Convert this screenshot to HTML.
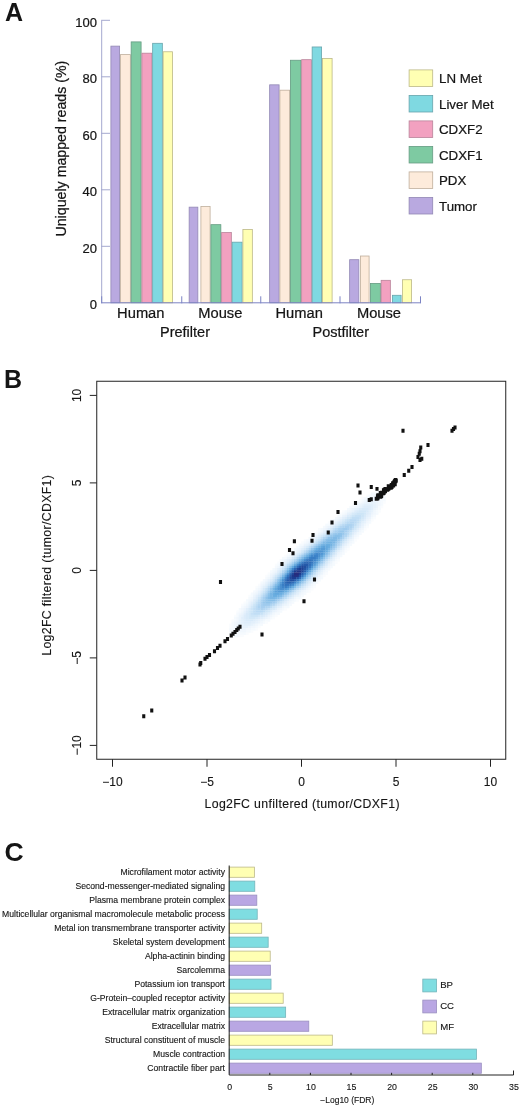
<!DOCTYPE html>
<html lang="en"><head><meta charset="utf-8"><title>Figure</title>
<style>
html,body{margin:0;padding:0;background:#fff}
svg{display:block}
svg text{font-family:"Liberation Sans", Arial, Helvetica, sans-serif;fill:#151515}
#panelA text{stroke:#151515;stroke-width:0.22px}
#panelB text,#panelC text{stroke:#151515;stroke-width:0.12px}
</style></head><body>
<svg width="520" height="1107" viewBox="0 0 520 1107">
<rect width="520" height="1107" fill="#fff"/>
<g id="panelA">
<rect x="110.90" y="46.13" width="8.70" height="256.68" fill="#b9a9e0" stroke="#9288b4" stroke-width="0.8"/>
<rect x="120.40" y="54.60" width="9.95" height="248.20" fill="#fdebdb" stroke="#bfae9c" stroke-width="0.8"/>
<rect x="131.15" y="41.89" width="9.95" height="260.91" fill="#7ecaa2" stroke="#669c83" stroke-width="0.8"/>
<rect x="141.90" y="53.19" width="9.95" height="249.61" fill="#f2a1c0" stroke="#b98399" stroke-width="0.8"/>
<rect x="152.65" y="43.30" width="9.70" height="259.50" fill="#7fd9e1" stroke="#68a4ac" stroke-width="0.8"/>
<rect x="163.15" y="51.77" width="9.45" height="251.03" fill="#ffffb3" stroke="#bcb888" stroke-width="0.8"/>
<rect x="189.15" y="207.15" width="8.70" height="95.65" fill="#b9a9e0" stroke="#9288b4" stroke-width="0.8"/>
<rect x="200.90" y="206.59" width="9.20" height="96.22" fill="#fdebdb" stroke="#bfae9c" stroke-width="0.8"/>
<rect x="210.90" y="224.66" width="9.95" height="78.14" fill="#7ecaa2" stroke="#669c83" stroke-width="0.8"/>
<rect x="221.65" y="232.58" width="9.70" height="70.22" fill="#f2a1c0" stroke="#b98399" stroke-width="0.8"/>
<rect x="232.15" y="242.18" width="9.95" height="60.62" fill="#7fd9e1" stroke="#68a4ac" stroke-width="0.8"/>
<rect x="242.90" y="229.47" width="9.45" height="73.33" fill="#ffffb3" stroke="#bcb888" stroke-width="0.8"/>
<rect x="269.65" y="84.83" width="9.45" height="217.97" fill="#b9a9e0" stroke="#9288b4" stroke-width="0.8"/>
<rect x="279.90" y="90.19" width="9.70" height="212.61" fill="#fdebdb" stroke="#bfae9c" stroke-width="0.8"/>
<rect x="290.40" y="60.25" width="10.45" height="242.55" fill="#7ecaa2" stroke="#669c83" stroke-width="0.8"/>
<rect x="301.65" y="59.68" width="9.70" height="243.12" fill="#f2a1c0" stroke="#b98399" stroke-width="0.8"/>
<rect x="312.15" y="46.97" width="9.45" height="255.83" fill="#7fd9e1" stroke="#68a4ac" stroke-width="0.8"/>
<rect x="322.40" y="58.55" width="9.70" height="244.25" fill="#ffffb3" stroke="#bcb888" stroke-width="0.8"/>
<rect x="349.65" y="259.69" width="9.20" height="43.10" fill="#b9a9e0" stroke="#9288b4" stroke-width="0.8"/>
<rect x="360.40" y="256.02" width="8.70" height="46.78" fill="#fdebdb" stroke="#bfae9c" stroke-width="0.8"/>
<rect x="370.40" y="283.43" width="9.95" height="19.37" fill="#7ecaa2" stroke="#669c83" stroke-width="0.8"/>
<rect x="381.15" y="280.32" width="9.20" height="22.48" fill="#f2a1c0" stroke="#b98399" stroke-width="0.8"/>
<rect x="392.40" y="295.29" width="8.70" height="7.51" fill="#7fd9e1" stroke="#68a4ac" stroke-width="0.8"/>
<rect x="402.40" y="279.75" width="9.20" height="23.05" fill="#ffffb3" stroke="#bcb888" stroke-width="0.8"/>
<path d="M101.7 20.4V302.8" fill="none" stroke="#a4a8cf" stroke-width="1"/>
<path d="M101.2 246.30h8.8" stroke="#a4a8cf" stroke-width="1"/>
<path d="M101.2 189.80h8.8" stroke="#a4a8cf" stroke-width="1"/>
<path d="M101.2 133.30h8.8" stroke="#a4a8cf" stroke-width="1"/>
<path d="M101.2 76.80h8.8" stroke="#a4a8cf" stroke-width="1"/>
<path d="M101.2 20.30h8.8" stroke="#a4a8cf" stroke-width="1"/>
<path d="M101.2 302.8H420.5" fill="none" stroke="#7c84c4" stroke-width="1"/>
<path d="M101.7 303.3v-7" stroke="#7c84c4" stroke-width="1"/>
<path d="M181.75 303.3v-7" stroke="#7c84c4" stroke-width="1"/>
<path d="M260.75 303.3v-7" stroke="#7c84c4" stroke-width="1"/>
<path d="M340 303.3v-7" stroke="#7c84c4" stroke-width="1"/>
<path d="M420.5 303.3v-7" stroke="#7c84c4" stroke-width="1"/>
<text x="97" y="309.10" font-size="13" text-anchor="end">0</text>
<text x="97" y="252.60" font-size="13" text-anchor="end">20</text>
<text x="97" y="196.10" font-size="13" text-anchor="end">40</text>
<text x="97" y="139.60" font-size="13" text-anchor="end">60</text>
<text x="97" y="83.10" font-size="13" text-anchor="end">80</text>
<text x="97" y="26.60" font-size="13" text-anchor="end">100</text>
<text transform="translate(65.6 148.6) rotate(-90)" font-size="14.2" text-anchor="middle">Uniquely mapped reads (%)</text>
<text x="140.8" y="318" font-size="14.7" text-anchor="middle">Human</text>
<text x="220.3" y="318" font-size="14.7" text-anchor="middle">Mouse</text>
<text x="299.2" y="318" font-size="14.7" text-anchor="middle">Human</text>
<text x="379" y="318" font-size="14.7" text-anchor="middle">Mouse</text>
<text x="185" y="336.8" font-size="14.5" text-anchor="middle">Prefilter</text>
<text x="340.8" y="336.8" font-size="14.5" text-anchor="middle">Postfilter</text>
<rect x="409.1" y="69.90" width="23.6" height="16.6" fill="#ffffb3" stroke="#bcb888" stroke-width="0.8"/>
<text x="439" y="83.10" font-size="13.3">LN Met</text>
<rect x="409.1" y="95.40" width="23.6" height="16.6" fill="#7fd9e1" stroke="#68a4ac" stroke-width="0.8"/>
<text x="439" y="108.60" font-size="13.3">Liver Met</text>
<rect x="409.1" y="120.90" width="23.6" height="16.6" fill="#f2a1c0" stroke="#b98399" stroke-width="0.8"/>
<text x="439" y="134.10" font-size="13.3">CDXF2</text>
<rect x="409.1" y="146.40" width="23.6" height="16.6" fill="#7ecaa2" stroke="#669c83" stroke-width="0.8"/>
<text x="439" y="159.60" font-size="13.3">CDXF1</text>
<rect x="409.1" y="171.90" width="23.6" height="16.6" fill="#fdebdb" stroke="#bfae9c" stroke-width="0.8"/>
<text x="439" y="185.10" font-size="13.3">PDX</text>
<rect x="409.1" y="197.40" width="23.6" height="16.6" fill="#b9a9e0" stroke="#9288b4" stroke-width="0.8"/>
<text x="439" y="210.60" font-size="13.3">Tumor</text>
</g>
<text x="5" y="21" font-size="25" font-weight="bold">A</text>
<text x="4" y="388" font-size="25" font-weight="bold">B</text>
<text x="4.5" y="861.2" font-size="26.5" font-weight="bold">C</text>
<g id="panelB">
<rect x="375.8" y="490.2" width="2.7" height="2.5" fill="#fafcfe"/>
<rect x="371.0" y="492.4" width="9.9" height="2.5" fill="#f5fafe"/>
<rect x="380.6" y="492.4" width="2.7" height="2.5" fill="#fafcfe"/>
<rect x="366.2" y="494.6" width="2.7" height="2.5" fill="#fafcfe"/>
<rect x="368.6" y="494.6" width="5.1" height="2.5" fill="#f5fafe"/>
<rect x="373.4" y="494.6" width="5.1" height="2.5" fill="#f1f7fd"/>
<rect x="378.2" y="494.6" width="5.1" height="2.5" fill="#f5fafe"/>
<rect x="383.1" y="494.6" width="2.7" height="2.5" fill="#fafcfe"/>
<rect x="361.4" y="496.9" width="2.7" height="2.5" fill="#fafcfe"/>
<rect x="363.8" y="496.9" width="5.1" height="2.5" fill="#f5fafe"/>
<rect x="368.6" y="496.9" width="5.1" height="2.5" fill="#f1f7fd"/>
<rect x="373.4" y="496.9" width="2.7" height="2.5" fill="#ecf4fc"/>
<rect x="375.8" y="496.9" width="5.1" height="2.5" fill="#f1f7fd"/>
<rect x="380.6" y="496.9" width="5.1" height="2.5" fill="#f5fafe"/>
<rect x="359.0" y="499.1" width="2.7" height="2.5" fill="#fafcfe"/>
<rect x="361.4" y="499.1" width="2.7" height="2.5" fill="#f5fafe"/>
<rect x="363.8" y="499.1" width="2.7" height="2.5" fill="#f1f7fd"/>
<rect x="366.2" y="499.1" width="12.3" height="2.5" fill="#ecf4fc"/>
<rect x="378.2" y="499.1" width="2.7" height="2.5" fill="#f1f7fd"/>
<rect x="380.6" y="499.1" width="5.1" height="2.5" fill="#f5fafe"/>
<rect x="356.6" y="501.3" width="5.1" height="2.5" fill="#f5fafe"/>
<rect x="361.4" y="501.3" width="2.7" height="2.5" fill="#f1f7fd"/>
<rect x="363.8" y="501.3" width="2.7" height="2.5" fill="#ecf4fc"/>
<rect x="366.2" y="501.3" width="9.9" height="2.5" fill="#e7f2fc"/>
<rect x="375.8" y="501.3" width="2.7" height="2.5" fill="#ecf4fc"/>
<rect x="378.2" y="501.3" width="2.7" height="2.5" fill="#f1f7fd"/>
<rect x="380.6" y="501.3" width="2.7" height="2.5" fill="#f5fafe"/>
<rect x="383.1" y="501.3" width="2.7" height="2.5" fill="#fafcfe"/>
<rect x="351.8" y="503.5" width="2.7" height="2.5" fill="#fafcfe"/>
<rect x="354.2" y="503.5" width="2.7" height="2.5" fill="#f5fafe"/>
<rect x="356.6" y="503.5" width="2.7" height="2.5" fill="#f1f7fd"/>
<rect x="359.0" y="503.5" width="2.7" height="2.5" fill="#ecf4fc"/>
<rect x="361.4" y="503.5" width="2.7" height="2.5" fill="#e7f2fc"/>
<rect x="363.8" y="503.5" width="9.9" height="2.5" fill="#e2effb"/>
<rect x="373.4" y="503.5" width="2.7" height="2.5" fill="#e7f2fc"/>
<rect x="375.8" y="503.5" width="2.7" height="2.5" fill="#ecf4fc"/>
<rect x="378.2" y="503.5" width="2.7" height="2.5" fill="#f1f7fd"/>
<rect x="380.6" y="503.5" width="2.7" height="2.5" fill="#f5fafe"/>
<rect x="349.4" y="505.8" width="5.1" height="2.5" fill="#f5fafe"/>
<rect x="354.2" y="505.8" width="2.7" height="2.5" fill="#f1f7fd"/>
<rect x="356.6" y="505.8" width="2.7" height="2.5" fill="#ecf4fc"/>
<rect x="359.0" y="505.8" width="2.7" height="2.5" fill="#e7f2fc"/>
<rect x="361.4" y="505.8" width="2.7" height="2.5" fill="#e2effb"/>
<rect x="363.8" y="505.8" width="7.5" height="2.5" fill="#ddecfa"/>
<rect x="371.0" y="505.8" width="2.7" height="2.5" fill="#e2effb"/>
<rect x="373.4" y="505.8" width="2.7" height="2.5" fill="#e7f2fc"/>
<rect x="375.8" y="505.8" width="2.7" height="2.5" fill="#ecf4fc"/>
<rect x="378.2" y="505.8" width="2.7" height="2.5" fill="#f5fafe"/>
<rect x="380.6" y="505.8" width="2.7" height="2.5" fill="#fafcfe"/>
<rect x="347.0" y="508.0" width="2.7" height="2.5" fill="#f5fafe"/>
<rect x="349.4" y="508.0" width="2.7" height="2.5" fill="#f1f7fd"/>
<rect x="351.8" y="508.0" width="2.7" height="2.5" fill="#ecf4fc"/>
<rect x="354.2" y="508.0" width="2.7" height="2.5" fill="#e7f2fc"/>
<rect x="356.6" y="508.0" width="2.7" height="2.5" fill="#e2effb"/>
<rect x="359.0" y="508.0" width="2.7" height="2.5" fill="#ddecfa"/>
<rect x="361.4" y="508.0" width="7.5" height="2.5" fill="#d8eaf9"/>
<rect x="368.6" y="508.0" width="2.7" height="2.5" fill="#ddecfa"/>
<rect x="371.0" y="508.0" width="2.7" height="2.5" fill="#e2effb"/>
<rect x="373.4" y="508.0" width="2.7" height="2.5" fill="#ecf4fc"/>
<rect x="375.8" y="508.0" width="2.7" height="2.5" fill="#f1f7fd"/>
<rect x="378.2" y="508.0" width="2.7" height="2.5" fill="#f5fafe"/>
<rect x="342.1" y="510.2" width="2.7" height="2.5" fill="#fafcfe"/>
<rect x="344.6" y="510.2" width="2.7" height="2.5" fill="#f5fafe"/>
<rect x="347.0" y="510.2" width="2.7" height="2.5" fill="#f1f7fd"/>
<rect x="349.4" y="510.2" width="2.7" height="2.5" fill="#ecf4fc"/>
<rect x="351.8" y="510.2" width="2.7" height="2.5" fill="#e7f2fc"/>
<rect x="354.2" y="510.2" width="2.7" height="2.5" fill="#ddecfa"/>
<rect x="356.6" y="510.2" width="2.7" height="2.5" fill="#d8eaf9"/>
<rect x="359.0" y="510.2" width="7.5" height="2.5" fill="#d3e8f8"/>
<rect x="366.2" y="510.2" width="2.7" height="2.5" fill="#d8eaf9"/>
<rect x="368.6" y="510.2" width="2.7" height="2.5" fill="#e2effb"/>
<rect x="371.0" y="510.2" width="2.7" height="2.5" fill="#e7f2fc"/>
<rect x="373.4" y="510.2" width="2.7" height="2.5" fill="#f1f7fd"/>
<rect x="375.8" y="510.2" width="2.7" height="2.5" fill="#f5fafe"/>
<rect x="378.2" y="510.2" width="2.7" height="2.5" fill="#fafcfe"/>
<rect x="339.7" y="512.4" width="2.7" height="2.5" fill="#fafcfe"/>
<rect x="342.1" y="512.4" width="2.7" height="2.5" fill="#f5fafe"/>
<rect x="344.6" y="512.4" width="2.7" height="2.5" fill="#f1f7fd"/>
<rect x="347.0" y="512.4" width="2.7" height="2.5" fill="#e7f2fc"/>
<rect x="349.4" y="512.4" width="2.7" height="2.5" fill="#e2effb"/>
<rect x="351.8" y="512.4" width="2.7" height="2.5" fill="#d8eaf9"/>
<rect x="354.2" y="512.4" width="2.7" height="2.5" fill="#d3e8f8"/>
<rect x="356.6" y="512.4" width="7.5" height="2.5" fill="#cde5f7"/>
<rect x="363.8" y="512.4" width="2.7" height="2.5" fill="#d3e8f8"/>
<rect x="366.2" y="512.4" width="2.7" height="2.5" fill="#ddecfa"/>
<rect x="368.6" y="512.4" width="2.7" height="2.5" fill="#e2effb"/>
<rect x="371.0" y="512.4" width="2.7" height="2.5" fill="#ecf4fc"/>
<rect x="373.4" y="512.4" width="2.7" height="2.5" fill="#f1f7fd"/>
<rect x="375.8" y="512.4" width="2.7" height="2.5" fill="#f5fafe"/>
<rect x="337.3" y="514.7" width="5.1" height="2.5" fill="#f5fafe"/>
<rect x="342.1" y="514.7" width="2.7" height="2.5" fill="#ecf4fc"/>
<rect x="344.6" y="514.7" width="2.7" height="2.5" fill="#e7f2fc"/>
<rect x="347.0" y="514.7" width="2.7" height="2.5" fill="#ddecfa"/>
<rect x="349.4" y="514.7" width="2.7" height="2.5" fill="#d8eaf9"/>
<rect x="351.8" y="514.7" width="2.7" height="2.5" fill="#cde5f7"/>
<rect x="354.2" y="514.7" width="7.5" height="2.5" fill="#c7e1f6"/>
<rect x="361.4" y="514.7" width="2.7" height="2.5" fill="#cde5f7"/>
<rect x="363.8" y="514.7" width="2.7" height="2.5" fill="#d8eaf9"/>
<rect x="366.2" y="514.7" width="2.7" height="2.5" fill="#e2effb"/>
<rect x="368.6" y="514.7" width="2.7" height="2.5" fill="#e7f2fc"/>
<rect x="371.0" y="514.7" width="2.7" height="2.5" fill="#f1f7fd"/>
<rect x="373.4" y="514.7" width="2.7" height="2.5" fill="#f5fafe"/>
<rect x="334.9" y="516.9" width="2.7" height="2.5" fill="#f5fafe"/>
<rect x="337.3" y="516.9" width="2.7" height="2.5" fill="#f1f7fd"/>
<rect x="339.7" y="516.9" width="2.7" height="2.5" fill="#ecf4fc"/>
<rect x="342.1" y="516.9" width="2.7" height="2.5" fill="#e2effb"/>
<rect x="344.6" y="516.9" width="2.7" height="2.5" fill="#ddecfa"/>
<rect x="347.0" y="516.9" width="2.7" height="2.5" fill="#d3e8f8"/>
<rect x="349.4" y="516.9" width="2.7" height="2.5" fill="#cde5f7"/>
<rect x="351.8" y="516.9" width="7.5" height="2.5" fill="#c1def5"/>
<rect x="359.0" y="516.9" width="2.7" height="2.5" fill="#c7e1f6"/>
<rect x="361.4" y="516.9" width="2.7" height="2.5" fill="#d3e8f8"/>
<rect x="363.8" y="516.9" width="2.7" height="2.5" fill="#ddecfa"/>
<rect x="366.2" y="516.9" width="2.7" height="2.5" fill="#e7f2fc"/>
<rect x="368.6" y="516.9" width="2.7" height="2.5" fill="#ecf4fc"/>
<rect x="371.0" y="516.9" width="2.7" height="2.5" fill="#f5fafe"/>
<rect x="373.4" y="516.9" width="2.7" height="2.5" fill="#fafcfe"/>
<rect x="330.1" y="519.1" width="2.7" height="2.5" fill="#fafcfe"/>
<rect x="332.5" y="519.1" width="2.7" height="2.5" fill="#f5fafe"/>
<rect x="334.9" y="519.1" width="2.7" height="2.5" fill="#f1f7fd"/>
<rect x="337.3" y="519.1" width="2.7" height="2.5" fill="#ecf4fc"/>
<rect x="339.7" y="519.1" width="2.7" height="2.5" fill="#e2effb"/>
<rect x="342.1" y="519.1" width="2.7" height="2.5" fill="#d8eaf9"/>
<rect x="344.6" y="519.1" width="2.7" height="2.5" fill="#cde5f7"/>
<rect x="347.0" y="519.1" width="2.7" height="2.5" fill="#c7e1f6"/>
<rect x="349.4" y="519.1" width="7.5" height="2.5" fill="#badaf4"/>
<rect x="356.6" y="519.1" width="2.7" height="2.5" fill="#c1def5"/>
<rect x="359.0" y="519.1" width="2.7" height="2.5" fill="#cde5f7"/>
<rect x="361.4" y="519.1" width="2.7" height="2.5" fill="#d8eaf9"/>
<rect x="363.8" y="519.1" width="2.7" height="2.5" fill="#e2effb"/>
<rect x="366.2" y="519.1" width="2.7" height="2.5" fill="#ecf4fc"/>
<rect x="368.6" y="519.1" width="2.7" height="2.5" fill="#f1f7fd"/>
<rect x="371.0" y="519.1" width="2.7" height="2.5" fill="#fafcfe"/>
<rect x="327.7" y="521.3" width="2.7" height="2.5" fill="#fafcfe"/>
<rect x="330.1" y="521.3" width="2.7" height="2.5" fill="#f5fafe"/>
<rect x="332.5" y="521.3" width="2.7" height="2.5" fill="#f1f7fd"/>
<rect x="334.9" y="521.3" width="2.7" height="2.5" fill="#e7f2fc"/>
<rect x="337.3" y="521.3" width="2.7" height="2.5" fill="#ddecfa"/>
<rect x="339.7" y="521.3" width="2.7" height="2.5" fill="#d8eaf9"/>
<rect x="342.1" y="521.3" width="2.7" height="2.5" fill="#cde5f7"/>
<rect x="344.6" y="521.3" width="2.7" height="2.5" fill="#c1def5"/>
<rect x="347.0" y="521.3" width="2.7" height="2.5" fill="#badaf4"/>
<rect x="349.4" y="521.3" width="5.1" height="2.5" fill="#b4d6f2"/>
<rect x="354.2" y="521.3" width="2.7" height="2.5" fill="#badaf4"/>
<rect x="356.6" y="521.3" width="2.7" height="2.5" fill="#c7e1f6"/>
<rect x="359.0" y="521.3" width="2.7" height="2.5" fill="#d3e8f8"/>
<rect x="361.4" y="521.3" width="2.7" height="2.5" fill="#e2effb"/>
<rect x="363.8" y="521.3" width="2.7" height="2.5" fill="#e7f2fc"/>
<rect x="366.2" y="521.3" width="2.7" height="2.5" fill="#f1f7fd"/>
<rect x="368.6" y="521.3" width="2.7" height="2.5" fill="#f5fafe"/>
<rect x="325.3" y="523.6" width="5.1" height="2.5" fill="#f5fafe"/>
<rect x="330.1" y="523.6" width="2.7" height="2.5" fill="#ecf4fc"/>
<rect x="332.5" y="523.6" width="2.7" height="2.5" fill="#e7f2fc"/>
<rect x="334.9" y="523.6" width="2.7" height="2.5" fill="#ddecfa"/>
<rect x="337.3" y="523.6" width="2.7" height="2.5" fill="#d3e8f8"/>
<rect x="339.7" y="523.6" width="2.7" height="2.5" fill="#c7e1f6"/>
<rect x="342.1" y="523.6" width="2.7" height="2.5" fill="#badaf4"/>
<rect x="344.6" y="523.6" width="2.7" height="2.5" fill="#b4d6f2"/>
<rect x="347.0" y="523.6" width="5.1" height="2.5" fill="#add3f1"/>
<rect x="351.8" y="523.6" width="2.7" height="2.5" fill="#b4d6f2"/>
<rect x="354.2" y="523.6" width="2.7" height="2.5" fill="#c1def5"/>
<rect x="356.6" y="523.6" width="2.7" height="2.5" fill="#d3e8f8"/>
<rect x="359.0" y="523.6" width="2.7" height="2.5" fill="#ddecfa"/>
<rect x="361.4" y="523.6" width="2.7" height="2.5" fill="#e7f2fc"/>
<rect x="363.8" y="523.6" width="2.7" height="2.5" fill="#f1f7fd"/>
<rect x="366.2" y="523.6" width="2.7" height="2.5" fill="#f5fafe"/>
<rect x="322.9" y="525.8" width="2.7" height="2.5" fill="#f5fafe"/>
<rect x="325.3" y="525.8" width="2.7" height="2.5" fill="#f1f7fd"/>
<rect x="327.7" y="525.8" width="2.7" height="2.5" fill="#ecf4fc"/>
<rect x="330.1" y="525.8" width="2.7" height="2.5" fill="#e2effb"/>
<rect x="332.5" y="525.8" width="2.7" height="2.5" fill="#d8eaf9"/>
<rect x="334.9" y="525.8" width="2.7" height="2.5" fill="#cde5f7"/>
<rect x="337.3" y="525.8" width="2.7" height="2.5" fill="#c1def5"/>
<rect x="339.7" y="525.8" width="2.7" height="2.5" fill="#b4d6f2"/>
<rect x="342.1" y="525.8" width="2.7" height="2.5" fill="#add3f1"/>
<rect x="344.6" y="525.8" width="5.1" height="2.5" fill="#a7cff0"/>
<rect x="349.4" y="525.8" width="2.7" height="2.5" fill="#add3f1"/>
<rect x="351.8" y="525.8" width="2.7" height="2.5" fill="#badaf4"/>
<rect x="354.2" y="525.8" width="2.7" height="2.5" fill="#cde5f7"/>
<rect x="356.6" y="525.8" width="2.7" height="2.5" fill="#d8eaf9"/>
<rect x="359.0" y="525.8" width="2.7" height="2.5" fill="#e2effb"/>
<rect x="361.4" y="525.8" width="2.7" height="2.5" fill="#ecf4fc"/>
<rect x="363.8" y="525.8" width="2.7" height="2.5" fill="#f5fafe"/>
<rect x="366.2" y="525.8" width="2.7" height="2.5" fill="#fafcfe"/>
<rect x="318.1" y="528.0" width="2.7" height="2.5" fill="#fafcfe"/>
<rect x="320.5" y="528.0" width="2.7" height="2.5" fill="#f5fafe"/>
<rect x="322.9" y="528.0" width="2.7" height="2.5" fill="#f1f7fd"/>
<rect x="325.3" y="528.0" width="2.7" height="2.5" fill="#ecf4fc"/>
<rect x="327.7" y="528.0" width="2.7" height="2.5" fill="#e2effb"/>
<rect x="330.1" y="528.0" width="2.7" height="2.5" fill="#d8eaf9"/>
<rect x="332.5" y="528.0" width="2.7" height="2.5" fill="#c7e1f6"/>
<rect x="334.9" y="528.0" width="2.7" height="2.5" fill="#badaf4"/>
<rect x="337.3" y="528.0" width="2.7" height="2.5" fill="#add3f1"/>
<rect x="339.7" y="528.0" width="2.7" height="2.5" fill="#a7cff0"/>
<rect x="342.1" y="528.0" width="5.1" height="2.5" fill="#9fcbee"/>
<rect x="347.0" y="528.0" width="2.7" height="2.5" fill="#a7cff0"/>
<rect x="349.4" y="528.0" width="2.7" height="2.5" fill="#b4d6f2"/>
<rect x="351.8" y="528.0" width="2.7" height="2.5" fill="#c7e1f6"/>
<rect x="354.2" y="528.0" width="2.7" height="2.5" fill="#d3e8f8"/>
<rect x="356.6" y="528.0" width="2.7" height="2.5" fill="#e2effb"/>
<rect x="359.0" y="528.0" width="2.7" height="2.5" fill="#ecf4fc"/>
<rect x="361.4" y="528.0" width="2.7" height="2.5" fill="#f1f7fd"/>
<rect x="363.8" y="528.0" width="2.7" height="2.5" fill="#fafcfe"/>
<rect x="315.7" y="530.2" width="2.7" height="2.5" fill="#fafcfe"/>
<rect x="318.1" y="530.2" width="2.7" height="2.5" fill="#f5fafe"/>
<rect x="320.5" y="530.2" width="2.7" height="2.5" fill="#f1f7fd"/>
<rect x="322.9" y="530.2" width="2.7" height="2.5" fill="#e7f2fc"/>
<rect x="325.3" y="530.2" width="2.7" height="2.5" fill="#ddecfa"/>
<rect x="327.7" y="530.2" width="2.7" height="2.5" fill="#d3e8f8"/>
<rect x="330.1" y="530.2" width="2.7" height="2.5" fill="#c7e1f6"/>
<rect x="332.5" y="530.2" width="2.7" height="2.5" fill="#b4d6f2"/>
<rect x="334.9" y="530.2" width="2.7" height="2.5" fill="#a7cff0"/>
<rect x="337.3" y="530.2" width="2.7" height="2.5" fill="#9fcbee"/>
<rect x="339.7" y="530.2" width="5.1" height="2.5" fill="#98c7ec"/>
<rect x="344.6" y="530.2" width="2.7" height="2.5" fill="#a7cff0"/>
<rect x="347.0" y="530.2" width="2.7" height="2.5" fill="#b4d6f2"/>
<rect x="349.4" y="530.2" width="2.7" height="2.5" fill="#c1def5"/>
<rect x="351.8" y="530.2" width="2.7" height="2.5" fill="#d3e8f8"/>
<rect x="354.2" y="530.2" width="2.7" height="2.5" fill="#ddecfa"/>
<rect x="356.6" y="530.2" width="2.7" height="2.5" fill="#e7f2fc"/>
<rect x="359.0" y="530.2" width="2.7" height="2.5" fill="#f1f7fd"/>
<rect x="361.4" y="530.2" width="2.7" height="2.5" fill="#f5fafe"/>
<rect x="313.3" y="532.5" width="5.1" height="2.5" fill="#f5fafe"/>
<rect x="318.1" y="532.5" width="2.7" height="2.5" fill="#ecf4fc"/>
<rect x="320.5" y="532.5" width="2.7" height="2.5" fill="#e7f2fc"/>
<rect x="322.9" y="532.5" width="2.7" height="2.5" fill="#ddecfa"/>
<rect x="325.3" y="532.5" width="2.7" height="2.5" fill="#d3e8f8"/>
<rect x="327.7" y="532.5" width="2.7" height="2.5" fill="#c1def5"/>
<rect x="330.1" y="532.5" width="2.7" height="2.5" fill="#add3f1"/>
<rect x="332.5" y="532.5" width="2.7" height="2.5" fill="#9fcbee"/>
<rect x="334.9" y="532.5" width="2.7" height="2.5" fill="#98c7ec"/>
<rect x="337.3" y="532.5" width="5.1" height="2.5" fill="#90c3ea"/>
<rect x="342.1" y="532.5" width="2.7" height="2.5" fill="#98c7ec"/>
<rect x="344.6" y="532.5" width="2.7" height="2.5" fill="#add3f1"/>
<rect x="347.0" y="532.5" width="2.7" height="2.5" fill="#badaf4"/>
<rect x="349.4" y="532.5" width="2.7" height="2.5" fill="#cde5f7"/>
<rect x="351.8" y="532.5" width="2.7" height="2.5" fill="#ddecfa"/>
<rect x="354.2" y="532.5" width="2.7" height="2.5" fill="#e7f2fc"/>
<rect x="356.6" y="532.5" width="2.7" height="2.5" fill="#f1f7fd"/>
<rect x="359.0" y="532.5" width="2.7" height="2.5" fill="#f5fafe"/>
<rect x="310.9" y="534.7" width="2.7" height="2.5" fill="#f5fafe"/>
<rect x="313.3" y="534.7" width="2.7" height="2.5" fill="#f1f7fd"/>
<rect x="315.7" y="534.7" width="2.7" height="2.5" fill="#ecf4fc"/>
<rect x="318.1" y="534.7" width="2.7" height="2.5" fill="#e2effb"/>
<rect x="320.5" y="534.7" width="2.7" height="2.5" fill="#d8eaf9"/>
<rect x="322.9" y="534.7" width="2.7" height="2.5" fill="#cde5f7"/>
<rect x="325.3" y="534.7" width="2.7" height="2.5" fill="#badaf4"/>
<rect x="327.7" y="534.7" width="2.7" height="2.5" fill="#add3f1"/>
<rect x="330.1" y="534.7" width="2.7" height="2.5" fill="#98c7ec"/>
<rect x="332.5" y="534.7" width="2.7" height="2.5" fill="#90c3ea"/>
<rect x="334.9" y="534.7" width="5.1" height="2.5" fill="#88bfe8"/>
<rect x="339.7" y="534.7" width="2.7" height="2.5" fill="#90c3ea"/>
<rect x="342.1" y="534.7" width="2.7" height="2.5" fill="#a7cff0"/>
<rect x="344.6" y="534.7" width="2.7" height="2.5" fill="#b4d6f2"/>
<rect x="347.0" y="534.7" width="2.7" height="2.5" fill="#c7e1f6"/>
<rect x="349.4" y="534.7" width="2.7" height="2.5" fill="#d8eaf9"/>
<rect x="351.8" y="534.7" width="2.7" height="2.5" fill="#e7f2fc"/>
<rect x="354.2" y="534.7" width="2.7" height="2.5" fill="#f1f7fd"/>
<rect x="356.6" y="534.7" width="2.7" height="2.5" fill="#f5fafe"/>
<rect x="308.5" y="536.9" width="2.7" height="2.5" fill="#f5fafe"/>
<rect x="310.9" y="536.9" width="2.7" height="2.5" fill="#f1f7fd"/>
<rect x="313.3" y="536.9" width="2.7" height="2.5" fill="#ecf4fc"/>
<rect x="315.7" y="536.9" width="2.7" height="2.5" fill="#e2effb"/>
<rect x="318.1" y="536.9" width="2.7" height="2.5" fill="#d8eaf9"/>
<rect x="320.5" y="536.9" width="2.7" height="2.5" fill="#c7e1f6"/>
<rect x="322.9" y="536.9" width="2.7" height="2.5" fill="#b4d6f2"/>
<rect x="325.3" y="536.9" width="2.7" height="2.5" fill="#a7cff0"/>
<rect x="327.7" y="536.9" width="2.7" height="2.5" fill="#90c3ea"/>
<rect x="330.1" y="536.9" width="2.7" height="2.5" fill="#88bfe8"/>
<rect x="332.5" y="536.9" width="5.1" height="2.5" fill="#81bae6"/>
<rect x="337.3" y="536.9" width="2.7" height="2.5" fill="#88bfe8"/>
<rect x="339.7" y="536.9" width="2.7" height="2.5" fill="#9fcbee"/>
<rect x="342.1" y="536.9" width="2.7" height="2.5" fill="#add3f1"/>
<rect x="344.6" y="536.9" width="2.7" height="2.5" fill="#c7e1f6"/>
<rect x="347.0" y="536.9" width="2.7" height="2.5" fill="#d8eaf9"/>
<rect x="349.4" y="536.9" width="2.7" height="2.5" fill="#e2effb"/>
<rect x="351.8" y="536.9" width="2.7" height="2.5" fill="#ecf4fc"/>
<rect x="354.2" y="536.9" width="2.7" height="2.5" fill="#f5fafe"/>
<rect x="356.6" y="536.9" width="2.7" height="2.5" fill="#fafcfe"/>
<rect x="303.7" y="539.1" width="2.7" height="2.5" fill="#fafcfe"/>
<rect x="306.1" y="539.1" width="2.7" height="2.5" fill="#f5fafe"/>
<rect x="308.5" y="539.1" width="2.7" height="2.5" fill="#f1f7fd"/>
<rect x="310.9" y="539.1" width="2.7" height="2.5" fill="#e7f2fc"/>
<rect x="313.3" y="539.1" width="2.7" height="2.5" fill="#e2effb"/>
<rect x="315.7" y="539.1" width="2.7" height="2.5" fill="#d3e8f8"/>
<rect x="318.1" y="539.1" width="2.7" height="2.5" fill="#c7e1f6"/>
<rect x="320.5" y="539.1" width="2.7" height="2.5" fill="#b4d6f2"/>
<rect x="322.9" y="539.1" width="2.7" height="2.5" fill="#9fcbee"/>
<rect x="325.3" y="539.1" width="2.7" height="2.5" fill="#88bfe8"/>
<rect x="327.7" y="539.1" width="2.7" height="2.5" fill="#81bae6"/>
<rect x="330.1" y="539.1" width="5.1" height="2.5" fill="#79b6e4"/>
<rect x="334.9" y="539.1" width="2.7" height="2.5" fill="#81bae6"/>
<rect x="337.3" y="539.1" width="2.7" height="2.5" fill="#98c7ec"/>
<rect x="339.7" y="539.1" width="2.7" height="2.5" fill="#add3f1"/>
<rect x="342.1" y="539.1" width="2.7" height="2.5" fill="#c1def5"/>
<rect x="344.6" y="539.1" width="2.7" height="2.5" fill="#d3e8f8"/>
<rect x="347.0" y="539.1" width="2.7" height="2.5" fill="#e2effb"/>
<rect x="349.4" y="539.1" width="2.7" height="2.5" fill="#ecf4fc"/>
<rect x="351.8" y="539.1" width="2.7" height="2.5" fill="#f1f7fd"/>
<rect x="354.2" y="539.1" width="2.7" height="2.5" fill="#fafcfe"/>
<rect x="301.2" y="541.3" width="2.7" height="2.5" fill="#fafcfe"/>
<rect x="303.7" y="541.3" width="2.7" height="2.5" fill="#f5fafe"/>
<rect x="306.1" y="541.3" width="2.7" height="2.5" fill="#f1f7fd"/>
<rect x="308.5" y="541.3" width="2.7" height="2.5" fill="#e7f2fc"/>
<rect x="310.9" y="541.3" width="2.7" height="2.5" fill="#ddecfa"/>
<rect x="313.3" y="541.3" width="2.7" height="2.5" fill="#d3e8f8"/>
<rect x="315.7" y="541.3" width="2.7" height="2.5" fill="#c1def5"/>
<rect x="318.1" y="541.3" width="2.7" height="2.5" fill="#add3f1"/>
<rect x="320.5" y="541.3" width="2.7" height="2.5" fill="#98c7ec"/>
<rect x="322.9" y="541.3" width="2.7" height="2.5" fill="#81bae6"/>
<rect x="325.3" y="541.3" width="2.7" height="2.5" fill="#79b6e4"/>
<rect x="327.7" y="541.3" width="5.1" height="2.5" fill="#72b2e2"/>
<rect x="332.5" y="541.3" width="2.7" height="2.5" fill="#79b6e4"/>
<rect x="334.9" y="541.3" width="2.7" height="2.5" fill="#90c3ea"/>
<rect x="337.3" y="541.3" width="2.7" height="2.5" fill="#a7cff0"/>
<rect x="339.7" y="541.3" width="2.7" height="2.5" fill="#badaf4"/>
<rect x="342.1" y="541.3" width="2.7" height="2.5" fill="#cde5f7"/>
<rect x="344.6" y="541.3" width="2.7" height="2.5" fill="#ddecfa"/>
<rect x="347.0" y="541.3" width="2.7" height="2.5" fill="#e7f2fc"/>
<rect x="349.4" y="541.3" width="2.7" height="2.5" fill="#f1f7fd"/>
<rect x="351.8" y="541.3" width="2.7" height="2.5" fill="#f5fafe"/>
<rect x="298.8" y="543.6" width="5.1" height="2.5" fill="#f5fafe"/>
<rect x="303.7" y="543.6" width="2.7" height="2.5" fill="#ecf4fc"/>
<rect x="306.1" y="543.6" width="2.7" height="2.5" fill="#e7f2fc"/>
<rect x="308.5" y="543.6" width="2.7" height="2.5" fill="#ddecfa"/>
<rect x="310.9" y="543.6" width="2.7" height="2.5" fill="#cde5f7"/>
<rect x="313.3" y="543.6" width="2.7" height="2.5" fill="#badaf4"/>
<rect x="315.7" y="543.6" width="2.7" height="2.5" fill="#a7cff0"/>
<rect x="318.1" y="543.6" width="2.7" height="2.5" fill="#90c3ea"/>
<rect x="320.5" y="543.6" width="2.7" height="2.5" fill="#79b6e4"/>
<rect x="322.9" y="543.6" width="2.7" height="2.5" fill="#72b2e2"/>
<rect x="325.3" y="543.6" width="5.1" height="2.5" fill="#6aaee0"/>
<rect x="330.1" y="543.6" width="2.7" height="2.5" fill="#72b2e2"/>
<rect x="332.5" y="543.6" width="2.7" height="2.5" fill="#88bfe8"/>
<rect x="334.9" y="543.6" width="2.7" height="2.5" fill="#9fcbee"/>
<rect x="337.3" y="543.6" width="2.7" height="2.5" fill="#b4d6f2"/>
<rect x="339.7" y="543.6" width="2.7" height="2.5" fill="#c7e1f6"/>
<rect x="342.1" y="543.6" width="2.7" height="2.5" fill="#ddecfa"/>
<rect x="344.6" y="543.6" width="2.7" height="2.5" fill="#e7f2fc"/>
<rect x="347.0" y="543.6" width="2.7" height="2.5" fill="#f1f7fd"/>
<rect x="349.4" y="543.6" width="2.7" height="2.5" fill="#f5fafe"/>
<rect x="296.4" y="545.8" width="2.7" height="2.5" fill="#f5fafe"/>
<rect x="298.8" y="545.8" width="2.7" height="2.5" fill="#f1f7fd"/>
<rect x="301.2" y="545.8" width="2.7" height="2.5" fill="#ecf4fc"/>
<rect x="303.7" y="545.8" width="2.7" height="2.5" fill="#e2effb"/>
<rect x="306.1" y="545.8" width="2.7" height="2.5" fill="#d8eaf9"/>
<rect x="308.5" y="545.8" width="2.7" height="2.5" fill="#c7e1f6"/>
<rect x="310.9" y="545.8" width="2.7" height="2.5" fill="#b4d6f2"/>
<rect x="313.3" y="545.8" width="2.7" height="2.5" fill="#9fcbee"/>
<rect x="315.7" y="545.8" width="2.7" height="2.5" fill="#88bfe8"/>
<rect x="318.1" y="545.8" width="2.7" height="2.5" fill="#72b2e2"/>
<rect x="320.5" y="545.8" width="2.7" height="2.5" fill="#63a8dd"/>
<rect x="322.9" y="545.8" width="2.7" height="2.5" fill="#5da2d9"/>
<rect x="325.3" y="545.8" width="2.7" height="2.5" fill="#63a8dd"/>
<rect x="327.7" y="545.8" width="2.7" height="2.5" fill="#6aaee0"/>
<rect x="330.1" y="545.8" width="2.7" height="2.5" fill="#81bae6"/>
<rect x="332.5" y="545.8" width="2.7" height="2.5" fill="#98c7ec"/>
<rect x="334.9" y="545.8" width="2.7" height="2.5" fill="#add3f1"/>
<rect x="337.3" y="545.8" width="2.7" height="2.5" fill="#c7e1f6"/>
<rect x="339.7" y="545.8" width="2.7" height="2.5" fill="#d8eaf9"/>
<rect x="342.1" y="545.8" width="2.7" height="2.5" fill="#e7f2fc"/>
<rect x="344.6" y="545.8" width="2.7" height="2.5" fill="#f1f7fd"/>
<rect x="347.0" y="545.8" width="2.7" height="2.5" fill="#f5fafe"/>
<rect x="294.0" y="548.0" width="2.7" height="2.5" fill="#f5fafe"/>
<rect x="296.4" y="548.0" width="2.7" height="2.5" fill="#f1f7fd"/>
<rect x="298.8" y="548.0" width="2.7" height="2.5" fill="#ecf4fc"/>
<rect x="301.2" y="548.0" width="2.7" height="2.5" fill="#e2effb"/>
<rect x="303.7" y="548.0" width="2.7" height="2.5" fill="#d8eaf9"/>
<rect x="306.1" y="548.0" width="2.7" height="2.5" fill="#c7e1f6"/>
<rect x="308.5" y="548.0" width="2.7" height="2.5" fill="#b4d6f2"/>
<rect x="310.9" y="548.0" width="2.7" height="2.5" fill="#98c7ec"/>
<rect x="313.3" y="548.0" width="2.7" height="2.5" fill="#81bae6"/>
<rect x="315.7" y="548.0" width="2.7" height="2.5" fill="#6aaee0"/>
<rect x="318.1" y="548.0" width="2.7" height="2.5" fill="#5da2d9"/>
<rect x="320.5" y="548.0" width="5.1" height="2.5" fill="#569cd6"/>
<rect x="325.3" y="548.0" width="2.7" height="2.5" fill="#63a8dd"/>
<rect x="327.7" y="548.0" width="2.7" height="2.5" fill="#79b6e4"/>
<rect x="330.1" y="548.0" width="2.7" height="2.5" fill="#90c3ea"/>
<rect x="332.5" y="548.0" width="2.7" height="2.5" fill="#a7cff0"/>
<rect x="334.9" y="548.0" width="2.7" height="2.5" fill="#c1def5"/>
<rect x="337.3" y="548.0" width="2.7" height="2.5" fill="#d3e8f8"/>
<rect x="339.7" y="548.0" width="2.7" height="2.5" fill="#e2effb"/>
<rect x="342.1" y="548.0" width="2.7" height="2.5" fill="#ecf4fc"/>
<rect x="344.6" y="548.0" width="2.7" height="2.5" fill="#f5fafe"/>
<rect x="347.0" y="548.0" width="2.7" height="2.5" fill="#fafcfe"/>
<rect x="289.2" y="550.2" width="2.7" height="2.5" fill="#fafcfe"/>
<rect x="291.6" y="550.2" width="2.7" height="2.5" fill="#f5fafe"/>
<rect x="294.0" y="550.2" width="2.7" height="2.5" fill="#f1f7fd"/>
<rect x="296.4" y="550.2" width="2.7" height="2.5" fill="#e7f2fc"/>
<rect x="298.8" y="550.2" width="2.7" height="2.5" fill="#e2effb"/>
<rect x="301.2" y="550.2" width="2.7" height="2.5" fill="#d3e8f8"/>
<rect x="303.7" y="550.2" width="2.7" height="2.5" fill="#c1def5"/>
<rect x="306.1" y="550.2" width="2.7" height="2.5" fill="#add3f1"/>
<rect x="308.5" y="550.2" width="2.7" height="2.5" fill="#90c3ea"/>
<rect x="310.9" y="550.2" width="2.7" height="2.5" fill="#79b6e4"/>
<rect x="313.3" y="550.2" width="2.7" height="2.5" fill="#63a8dd"/>
<rect x="315.7" y="550.2" width="2.7" height="2.5" fill="#569cd6"/>
<rect x="318.1" y="550.2" width="5.1" height="2.5" fill="#5096d3"/>
<rect x="322.9" y="550.2" width="2.7" height="2.5" fill="#5da2d9"/>
<rect x="325.3" y="550.2" width="2.7" height="2.5" fill="#6aaee0"/>
<rect x="327.7" y="550.2" width="2.7" height="2.5" fill="#88bfe8"/>
<rect x="330.1" y="550.2" width="2.7" height="2.5" fill="#a7cff0"/>
<rect x="332.5" y="550.2" width="2.7" height="2.5" fill="#badaf4"/>
<rect x="334.9" y="550.2" width="2.7" height="2.5" fill="#d3e8f8"/>
<rect x="337.3" y="550.2" width="2.7" height="2.5" fill="#e2effb"/>
<rect x="339.7" y="550.2" width="2.7" height="2.5" fill="#ecf4fc"/>
<rect x="342.1" y="550.2" width="2.7" height="2.5" fill="#f1f7fd"/>
<rect x="344.6" y="550.2" width="2.7" height="2.5" fill="#fafcfe"/>
<rect x="286.8" y="552.5" width="2.7" height="2.5" fill="#fafcfe"/>
<rect x="289.2" y="552.5" width="2.7" height="2.5" fill="#f5fafe"/>
<rect x="291.6" y="552.5" width="2.7" height="2.5" fill="#f1f7fd"/>
<rect x="294.0" y="552.5" width="2.7" height="2.5" fill="#e7f2fc"/>
<rect x="296.4" y="552.5" width="2.7" height="2.5" fill="#ddecfa"/>
<rect x="298.8" y="552.5" width="2.7" height="2.5" fill="#d3e8f8"/>
<rect x="301.2" y="552.5" width="2.7" height="2.5" fill="#c1def5"/>
<rect x="303.7" y="552.5" width="2.7" height="2.5" fill="#a7cff0"/>
<rect x="306.1" y="552.5" width="2.7" height="2.5" fill="#90c3ea"/>
<rect x="308.5" y="552.5" width="2.7" height="2.5" fill="#72b2e2"/>
<rect x="310.9" y="552.5" width="2.7" height="2.5" fill="#5da2d9"/>
<rect x="313.3" y="552.5" width="2.7" height="2.5" fill="#5096d3"/>
<rect x="315.7" y="552.5" width="2.7" height="2.5" fill="#4389cc"/>
<rect x="318.1" y="552.5" width="2.7" height="2.5" fill="#498fcf"/>
<rect x="320.5" y="552.5" width="2.7" height="2.5" fill="#5096d3"/>
<rect x="322.9" y="552.5" width="2.7" height="2.5" fill="#63a8dd"/>
<rect x="325.3" y="552.5" width="2.7" height="2.5" fill="#81bae6"/>
<rect x="327.7" y="552.5" width="2.7" height="2.5" fill="#9fcbee"/>
<rect x="330.1" y="552.5" width="2.7" height="2.5" fill="#badaf4"/>
<rect x="332.5" y="552.5" width="2.7" height="2.5" fill="#cde5f7"/>
<rect x="334.9" y="552.5" width="2.7" height="2.5" fill="#ddecfa"/>
<rect x="337.3" y="552.5" width="2.7" height="2.5" fill="#ecf4fc"/>
<rect x="339.7" y="552.5" width="2.7" height="2.5" fill="#f1f7fd"/>
<rect x="342.1" y="552.5" width="2.7" height="2.5" fill="#f5fafe"/>
<rect x="284.4" y="554.7" width="2.7" height="2.5" fill="#fafcfe"/>
<rect x="286.8" y="554.7" width="2.7" height="2.5" fill="#f5fafe"/>
<rect x="289.2" y="554.7" width="2.7" height="2.5" fill="#f1f7fd"/>
<rect x="291.6" y="554.7" width="2.7" height="2.5" fill="#e7f2fc"/>
<rect x="294.0" y="554.7" width="2.7" height="2.5" fill="#ddecfa"/>
<rect x="296.4" y="554.7" width="2.7" height="2.5" fill="#cde5f7"/>
<rect x="298.8" y="554.7" width="2.7" height="2.5" fill="#badaf4"/>
<rect x="301.2" y="554.7" width="2.7" height="2.5" fill="#9fcbee"/>
<rect x="303.7" y="554.7" width="2.7" height="2.5" fill="#88bfe8"/>
<rect x="306.1" y="554.7" width="2.7" height="2.5" fill="#6aaee0"/>
<rect x="308.5" y="554.7" width="2.7" height="2.5" fill="#569cd6"/>
<rect x="310.9" y="554.7" width="2.7" height="2.5" fill="#4389cc"/>
<rect x="313.3" y="554.7" width="5.1" height="2.5" fill="#3c83c9"/>
<rect x="318.1" y="554.7" width="2.7" height="2.5" fill="#498fcf"/>
<rect x="320.5" y="554.7" width="2.7" height="2.5" fill="#5da2d9"/>
<rect x="322.9" y="554.7" width="2.7" height="2.5" fill="#79b6e4"/>
<rect x="325.3" y="554.7" width="2.7" height="2.5" fill="#98c7ec"/>
<rect x="327.7" y="554.7" width="2.7" height="2.5" fill="#b4d6f2"/>
<rect x="330.1" y="554.7" width="2.7" height="2.5" fill="#c7e1f6"/>
<rect x="332.5" y="554.7" width="2.7" height="2.5" fill="#ddecfa"/>
<rect x="334.9" y="554.7" width="2.7" height="2.5" fill="#e7f2fc"/>
<rect x="337.3" y="554.7" width="2.7" height="2.5" fill="#f1f7fd"/>
<rect x="339.7" y="554.7" width="2.7" height="2.5" fill="#f5fafe"/>
<rect x="282.0" y="556.9" width="5.1" height="2.5" fill="#f5fafe"/>
<rect x="286.8" y="556.9" width="2.7" height="2.5" fill="#ecf4fc"/>
<rect x="289.2" y="556.9" width="2.7" height="2.5" fill="#e7f2fc"/>
<rect x="291.6" y="556.9" width="2.7" height="2.5" fill="#d8eaf9"/>
<rect x="294.0" y="556.9" width="2.7" height="2.5" fill="#cde5f7"/>
<rect x="296.4" y="556.9" width="2.7" height="2.5" fill="#b4d6f2"/>
<rect x="298.8" y="556.9" width="2.7" height="2.5" fill="#9fcbee"/>
<rect x="301.2" y="556.9" width="2.7" height="2.5" fill="#81bae6"/>
<rect x="303.7" y="556.9" width="2.7" height="2.5" fill="#63a8dd"/>
<rect x="306.1" y="556.9" width="2.7" height="2.5" fill="#5096d3"/>
<rect x="308.5" y="556.9" width="2.7" height="2.5" fill="#3c83c9"/>
<rect x="310.9" y="556.9" width="5.1" height="2.5" fill="#387dc4"/>
<rect x="315.7" y="556.9" width="2.7" height="2.5" fill="#4389cc"/>
<rect x="318.1" y="556.9" width="2.7" height="2.5" fill="#569cd6"/>
<rect x="320.5" y="556.9" width="2.7" height="2.5" fill="#72b2e2"/>
<rect x="322.9" y="556.9" width="2.7" height="2.5" fill="#90c3ea"/>
<rect x="325.3" y="556.9" width="2.7" height="2.5" fill="#add3f1"/>
<rect x="327.7" y="556.9" width="2.7" height="2.5" fill="#c7e1f6"/>
<rect x="330.1" y="556.9" width="2.7" height="2.5" fill="#d8eaf9"/>
<rect x="332.5" y="556.9" width="2.7" height="2.5" fill="#e7f2fc"/>
<rect x="334.9" y="556.9" width="2.7" height="2.5" fill="#f1f7fd"/>
<rect x="337.3" y="556.9" width="2.7" height="2.5" fill="#f5fafe"/>
<rect x="279.6" y="559.1" width="2.7" height="2.5" fill="#f5fafe"/>
<rect x="282.0" y="559.1" width="2.7" height="2.5" fill="#f1f7fd"/>
<rect x="284.4" y="559.1" width="2.7" height="2.5" fill="#ecf4fc"/>
<rect x="286.8" y="559.1" width="2.7" height="2.5" fill="#e2effb"/>
<rect x="289.2" y="559.1" width="2.7" height="2.5" fill="#d8eaf9"/>
<rect x="291.6" y="559.1" width="2.7" height="2.5" fill="#c7e1f6"/>
<rect x="294.0" y="559.1" width="2.7" height="2.5" fill="#b4d6f2"/>
<rect x="296.4" y="559.1" width="2.7" height="2.5" fill="#98c7ec"/>
<rect x="298.8" y="559.1" width="2.7" height="2.5" fill="#79b6e4"/>
<rect x="301.2" y="559.1" width="2.7" height="2.5" fill="#5da2d9"/>
<rect x="303.7" y="559.1" width="2.7" height="2.5" fill="#4389cc"/>
<rect x="306.1" y="559.1" width="2.7" height="2.5" fill="#3578c0"/>
<rect x="308.5" y="559.1" width="2.7" height="2.5" fill="#3272bc"/>
<rect x="310.9" y="559.1" width="2.7" height="2.5" fill="#3578c0"/>
<rect x="313.3" y="559.1" width="2.7" height="2.5" fill="#3c83c9"/>
<rect x="315.7" y="559.1" width="2.7" height="2.5" fill="#5096d3"/>
<rect x="318.1" y="559.1" width="2.7" height="2.5" fill="#63a8dd"/>
<rect x="320.5" y="559.1" width="2.7" height="2.5" fill="#88bfe8"/>
<rect x="322.9" y="559.1" width="2.7" height="2.5" fill="#a7cff0"/>
<rect x="325.3" y="559.1" width="2.7" height="2.5" fill="#c1def5"/>
<rect x="327.7" y="559.1" width="2.7" height="2.5" fill="#d8eaf9"/>
<rect x="330.1" y="559.1" width="2.7" height="2.5" fill="#e2effb"/>
<rect x="332.5" y="559.1" width="2.7" height="2.5" fill="#ecf4fc"/>
<rect x="334.9" y="559.1" width="2.7" height="2.5" fill="#f5fafe"/>
<rect x="337.3" y="559.1" width="2.7" height="2.5" fill="#fafcfe"/>
<rect x="277.2" y="561.4" width="2.7" height="2.5" fill="#fafcfe"/>
<rect x="279.6" y="561.4" width="2.7" height="2.5" fill="#f5fafe"/>
<rect x="282.0" y="561.4" width="2.7" height="2.5" fill="#ecf4fc"/>
<rect x="284.4" y="561.4" width="2.7" height="2.5" fill="#e2effb"/>
<rect x="286.8" y="561.4" width="2.7" height="2.5" fill="#d8eaf9"/>
<rect x="289.2" y="561.4" width="2.7" height="2.5" fill="#c7e1f6"/>
<rect x="291.6" y="561.4" width="2.7" height="2.5" fill="#add3f1"/>
<rect x="294.0" y="561.4" width="2.7" height="2.5" fill="#90c3ea"/>
<rect x="296.4" y="561.4" width="2.7" height="2.5" fill="#72b2e2"/>
<rect x="298.8" y="561.4" width="2.7" height="2.5" fill="#5096d3"/>
<rect x="301.2" y="561.4" width="2.7" height="2.5" fill="#387dc4"/>
<rect x="303.7" y="561.4" width="2.7" height="2.5" fill="#2f6cb7"/>
<rect x="306.1" y="561.4" width="2.7" height="2.5" fill="#2c66b3"/>
<rect x="308.5" y="561.4" width="2.7" height="2.5" fill="#2f6cb7"/>
<rect x="310.9" y="561.4" width="2.7" height="2.5" fill="#3578c0"/>
<rect x="313.3" y="561.4" width="2.7" height="2.5" fill="#498fcf"/>
<rect x="315.7" y="561.4" width="2.7" height="2.5" fill="#5da2d9"/>
<rect x="318.1" y="561.4" width="2.7" height="2.5" fill="#81bae6"/>
<rect x="320.5" y="561.4" width="2.7" height="2.5" fill="#9fcbee"/>
<rect x="322.9" y="561.4" width="2.7" height="2.5" fill="#badaf4"/>
<rect x="325.3" y="561.4" width="2.7" height="2.5" fill="#d3e8f8"/>
<rect x="327.7" y="561.4" width="2.7" height="2.5" fill="#e2effb"/>
<rect x="330.1" y="561.4" width="2.7" height="2.5" fill="#ecf4fc"/>
<rect x="332.5" y="561.4" width="2.7" height="2.5" fill="#f5fafe"/>
<rect x="334.9" y="561.4" width="2.7" height="2.5" fill="#fafcfe"/>
<rect x="274.8" y="563.6" width="2.7" height="2.5" fill="#fafcfe"/>
<rect x="277.2" y="563.6" width="2.7" height="2.5" fill="#f5fafe"/>
<rect x="279.6" y="563.6" width="2.7" height="2.5" fill="#ecf4fc"/>
<rect x="282.0" y="563.6" width="2.7" height="2.5" fill="#e2effb"/>
<rect x="284.4" y="563.6" width="2.7" height="2.5" fill="#d8eaf9"/>
<rect x="286.8" y="563.6" width="2.7" height="2.5" fill="#c1def5"/>
<rect x="289.2" y="563.6" width="2.7" height="2.5" fill="#add3f1"/>
<rect x="291.6" y="563.6" width="2.7" height="2.5" fill="#90c3ea"/>
<rect x="294.0" y="563.6" width="2.7" height="2.5" fill="#6aaee0"/>
<rect x="296.4" y="563.6" width="2.7" height="2.5" fill="#498fcf"/>
<rect x="298.8" y="563.6" width="2.7" height="2.5" fill="#3578c0"/>
<rect x="301.2" y="563.6" width="2.7" height="2.5" fill="#2860ae"/>
<rect x="303.7" y="563.6" width="5.1" height="2.5" fill="#255aaa"/>
<rect x="308.5" y="563.6" width="2.7" height="2.5" fill="#2f6cb7"/>
<rect x="310.9" y="563.6" width="2.7" height="2.5" fill="#3c83c9"/>
<rect x="313.3" y="563.6" width="2.7" height="2.5" fill="#569cd6"/>
<rect x="315.7" y="563.6" width="2.7" height="2.5" fill="#79b6e4"/>
<rect x="318.1" y="563.6" width="2.7" height="2.5" fill="#9fcbee"/>
<rect x="320.5" y="563.6" width="2.7" height="2.5" fill="#badaf4"/>
<rect x="322.9" y="563.6" width="2.7" height="2.5" fill="#cde5f7"/>
<rect x="325.3" y="563.6" width="2.7" height="2.5" fill="#ddecfa"/>
<rect x="327.7" y="563.6" width="2.7" height="2.5" fill="#ecf4fc"/>
<rect x="330.1" y="563.6" width="2.7" height="2.5" fill="#f1f7fd"/>
<rect x="332.5" y="563.6" width="2.7" height="2.5" fill="#f5fafe"/>
<rect x="274.8" y="565.8" width="2.7" height="2.5" fill="#f5fafe"/>
<rect x="277.2" y="565.8" width="2.7" height="2.5" fill="#f1f7fd"/>
<rect x="279.6" y="565.8" width="2.7" height="2.5" fill="#e7f2fc"/>
<rect x="282.0" y="565.8" width="2.7" height="2.5" fill="#d8eaf9"/>
<rect x="284.4" y="565.8" width="2.7" height="2.5" fill="#c7e1f6"/>
<rect x="286.8" y="565.8" width="2.7" height="2.5" fill="#add3f1"/>
<rect x="289.2" y="565.8" width="2.7" height="2.5" fill="#88bfe8"/>
<rect x="291.6" y="565.8" width="2.7" height="2.5" fill="#63a8dd"/>
<rect x="294.0" y="565.8" width="2.7" height="2.5" fill="#4389cc"/>
<rect x="296.4" y="565.8" width="2.7" height="2.5" fill="#2f6cb7"/>
<rect x="298.8" y="565.8" width="2.7" height="2.5" fill="#2355a5"/>
<rect x="301.2" y="565.8" width="2.7" height="2.5" fill="#20499b"/>
<rect x="303.7" y="565.8" width="2.7" height="2.5" fill="#214fa0"/>
<rect x="306.1" y="565.8" width="2.7" height="2.5" fill="#2860ae"/>
<rect x="308.5" y="565.8" width="2.7" height="2.5" fill="#3578c0"/>
<rect x="310.9" y="565.8" width="2.7" height="2.5" fill="#5096d3"/>
<rect x="313.3" y="565.8" width="2.7" height="2.5" fill="#72b2e2"/>
<rect x="315.7" y="565.8" width="2.7" height="2.5" fill="#98c7ec"/>
<rect x="318.1" y="565.8" width="2.7" height="2.5" fill="#b4d6f2"/>
<rect x="320.5" y="565.8" width="2.7" height="2.5" fill="#cde5f7"/>
<rect x="322.9" y="565.8" width="2.7" height="2.5" fill="#ddecfa"/>
<rect x="325.3" y="565.8" width="2.7" height="2.5" fill="#e7f2fc"/>
<rect x="327.7" y="565.8" width="2.7" height="2.5" fill="#f1f7fd"/>
<rect x="330.1" y="565.8" width="2.7" height="2.5" fill="#f5fafe"/>
<rect x="272.4" y="568.0" width="2.7" height="2.5" fill="#f5fafe"/>
<rect x="274.8" y="568.0" width="2.7" height="2.5" fill="#f1f7fd"/>
<rect x="277.2" y="568.0" width="2.7" height="2.5" fill="#e7f2fc"/>
<rect x="279.6" y="568.0" width="2.7" height="2.5" fill="#ddecfa"/>
<rect x="282.0" y="568.0" width="2.7" height="2.5" fill="#cde5f7"/>
<rect x="284.4" y="568.0" width="2.7" height="2.5" fill="#b4d6f2"/>
<rect x="286.8" y="568.0" width="2.7" height="2.5" fill="#90c3ea"/>
<rect x="289.2" y="568.0" width="2.7" height="2.5" fill="#63a8dd"/>
<rect x="291.6" y="568.0" width="2.7" height="2.5" fill="#3c83c9"/>
<rect x="294.0" y="568.0" width="2.7" height="2.5" fill="#2c66b3"/>
<rect x="296.4" y="568.0" width="2.7" height="2.5" fill="#20499b"/>
<rect x="298.8" y="568.0" width="2.7" height="2.5" fill="#1c3d91"/>
<rect x="301.2" y="568.0" width="2.7" height="2.5" fill="#1e4396"/>
<rect x="303.7" y="568.0" width="2.7" height="2.5" fill="#2355a5"/>
<rect x="306.1" y="568.0" width="2.7" height="2.5" fill="#2f6cb7"/>
<rect x="308.5" y="568.0" width="2.7" height="2.5" fill="#498fcf"/>
<rect x="310.9" y="568.0" width="2.7" height="2.5" fill="#6aaee0"/>
<rect x="313.3" y="568.0" width="2.7" height="2.5" fill="#90c3ea"/>
<rect x="315.7" y="568.0" width="2.7" height="2.5" fill="#add3f1"/>
<rect x="318.1" y="568.0" width="2.7" height="2.5" fill="#c7e1f6"/>
<rect x="320.5" y="568.0" width="2.7" height="2.5" fill="#ddecfa"/>
<rect x="322.9" y="568.0" width="2.7" height="2.5" fill="#e7f2fc"/>
<rect x="325.3" y="568.0" width="2.7" height="2.5" fill="#f1f7fd"/>
<rect x="327.7" y="568.0" width="2.7" height="2.5" fill="#f5fafe"/>
<rect x="270.0" y="570.2" width="2.7" height="2.5" fill="#f5fafe"/>
<rect x="272.4" y="570.2" width="2.7" height="2.5" fill="#f1f7fd"/>
<rect x="274.8" y="570.2" width="2.7" height="2.5" fill="#ecf4fc"/>
<rect x="277.2" y="570.2" width="2.7" height="2.5" fill="#ddecfa"/>
<rect x="279.6" y="570.2" width="2.7" height="2.5" fill="#cde5f7"/>
<rect x="282.0" y="570.2" width="2.7" height="2.5" fill="#b4d6f2"/>
<rect x="284.4" y="570.2" width="2.7" height="2.5" fill="#98c7ec"/>
<rect x="286.8" y="570.2" width="2.7" height="2.5" fill="#6aaee0"/>
<rect x="289.2" y="570.2" width="2.7" height="2.5" fill="#4389cc"/>
<rect x="291.6" y="570.2" width="2.7" height="2.5" fill="#2860ae"/>
<rect x="294.0" y="570.2" width="2.7" height="2.5" fill="#1c3d91"/>
<rect x="296.4" y="570.2" width="5.1" height="2.5" fill="#213587"/>
<rect x="301.2" y="570.2" width="2.7" height="2.5" fill="#1e4396"/>
<rect x="303.7" y="570.2" width="2.7" height="2.5" fill="#2860ae"/>
<rect x="306.1" y="570.2" width="2.7" height="2.5" fill="#3c83c9"/>
<rect x="308.5" y="570.2" width="2.7" height="2.5" fill="#63a8dd"/>
<rect x="310.9" y="570.2" width="2.7" height="2.5" fill="#88bfe8"/>
<rect x="313.3" y="570.2" width="2.7" height="2.5" fill="#add3f1"/>
<rect x="315.7" y="570.2" width="2.7" height="2.5" fill="#c7e1f6"/>
<rect x="318.1" y="570.2" width="2.7" height="2.5" fill="#d8eaf9"/>
<rect x="320.5" y="570.2" width="2.7" height="2.5" fill="#e7f2fc"/>
<rect x="322.9" y="570.2" width="2.7" height="2.5" fill="#f1f7fd"/>
<rect x="325.3" y="570.2" width="2.7" height="2.5" fill="#f5fafe"/>
<rect x="267.6" y="572.5" width="2.7" height="2.5" fill="#fafcfe"/>
<rect x="270.0" y="572.5" width="2.7" height="2.5" fill="#f1f7fd"/>
<rect x="272.4" y="572.5" width="2.7" height="2.5" fill="#ecf4fc"/>
<rect x="274.8" y="572.5" width="2.7" height="2.5" fill="#e2effb"/>
<rect x="277.2" y="572.5" width="2.7" height="2.5" fill="#d3e8f8"/>
<rect x="279.6" y="572.5" width="2.7" height="2.5" fill="#badaf4"/>
<rect x="282.0" y="572.5" width="2.7" height="2.5" fill="#9fcbee"/>
<rect x="284.4" y="572.5" width="2.7" height="2.5" fill="#79b6e4"/>
<rect x="286.8" y="572.5" width="2.7" height="2.5" fill="#5096d3"/>
<rect x="289.2" y="572.5" width="2.7" height="2.5" fill="#2f6cb7"/>
<rect x="291.6" y="572.5" width="2.7" height="2.5" fill="#20499b"/>
<rect x="294.0" y="572.5" width="5.1" height="2.5" fill="#272c7d"/>
<rect x="298.8" y="572.5" width="2.7" height="2.5" fill="#1e398c"/>
<rect x="301.2" y="572.5" width="2.7" height="2.5" fill="#255aaa"/>
<rect x="303.7" y="572.5" width="2.7" height="2.5" fill="#387dc4"/>
<rect x="306.1" y="572.5" width="2.7" height="2.5" fill="#5da2d9"/>
<rect x="308.5" y="572.5" width="2.7" height="2.5" fill="#81bae6"/>
<rect x="310.9" y="572.5" width="2.7" height="2.5" fill="#a7cff0"/>
<rect x="313.3" y="572.5" width="2.7" height="2.5" fill="#c1def5"/>
<rect x="315.7" y="572.5" width="2.7" height="2.5" fill="#d8eaf9"/>
<rect x="318.1" y="572.5" width="2.7" height="2.5" fill="#e2effb"/>
<rect x="320.5" y="572.5" width="2.7" height="2.5" fill="#ecf4fc"/>
<rect x="322.9" y="572.5" width="2.7" height="2.5" fill="#f5fafe"/>
<rect x="325.3" y="572.5" width="2.7" height="2.5" fill="#fafcfe"/>
<rect x="265.2" y="574.7" width="2.7" height="2.5" fill="#fafcfe"/>
<rect x="267.6" y="574.7" width="2.7" height="2.5" fill="#f5fafe"/>
<rect x="270.0" y="574.7" width="2.7" height="2.5" fill="#ecf4fc"/>
<rect x="272.4" y="574.7" width="2.7" height="2.5" fill="#e2effb"/>
<rect x="274.8" y="574.7" width="2.7" height="2.5" fill="#d3e8f8"/>
<rect x="277.2" y="574.7" width="2.7" height="2.5" fill="#c1def5"/>
<rect x="279.6" y="574.7" width="2.7" height="2.5" fill="#a7cff0"/>
<rect x="282.0" y="574.7" width="2.7" height="2.5" fill="#81bae6"/>
<rect x="284.4" y="574.7" width="2.7" height="2.5" fill="#569cd6"/>
<rect x="286.8" y="574.7" width="2.7" height="2.5" fill="#3578c0"/>
<rect x="289.2" y="574.7" width="2.7" height="2.5" fill="#2355a5"/>
<rect x="291.6" y="574.7" width="2.7" height="2.5" fill="#1e398c"/>
<rect x="294.0" y="574.7" width="5.1" height="2.5" fill="#243082"/>
<rect x="298.8" y="574.7" width="2.7" height="2.5" fill="#214fa0"/>
<rect x="301.2" y="574.7" width="2.7" height="2.5" fill="#3272bc"/>
<rect x="303.7" y="574.7" width="2.7" height="2.5" fill="#569cd6"/>
<rect x="306.1" y="574.7" width="2.7" height="2.5" fill="#81bae6"/>
<rect x="308.5" y="574.7" width="2.7" height="2.5" fill="#a7cff0"/>
<rect x="310.9" y="574.7" width="2.7" height="2.5" fill="#c1def5"/>
<rect x="313.3" y="574.7" width="2.7" height="2.5" fill="#d3e8f8"/>
<rect x="315.7" y="574.7" width="2.7" height="2.5" fill="#e2effb"/>
<rect x="318.1" y="574.7" width="2.7" height="2.5" fill="#ecf4fc"/>
<rect x="320.5" y="574.7" width="2.7" height="2.5" fill="#f5fafe"/>
<rect x="322.9" y="574.7" width="2.7" height="2.5" fill="#fafcfe"/>
<rect x="265.2" y="576.9" width="2.7" height="2.5" fill="#f5fafe"/>
<rect x="267.6" y="576.9" width="2.7" height="2.5" fill="#f1f7fd"/>
<rect x="270.0" y="576.9" width="2.7" height="2.5" fill="#e7f2fc"/>
<rect x="272.4" y="576.9" width="2.7" height="2.5" fill="#d8eaf9"/>
<rect x="274.8" y="576.9" width="2.7" height="2.5" fill="#c7e1f6"/>
<rect x="277.2" y="576.9" width="2.7" height="2.5" fill="#add3f1"/>
<rect x="279.6" y="576.9" width="2.7" height="2.5" fill="#88bfe8"/>
<rect x="282.0" y="576.9" width="2.7" height="2.5" fill="#63a8dd"/>
<rect x="284.4" y="576.9" width="2.7" height="2.5" fill="#3c83c9"/>
<rect x="286.8" y="576.9" width="2.7" height="2.5" fill="#2c66b3"/>
<rect x="289.2" y="576.9" width="2.7" height="2.5" fill="#20499b"/>
<rect x="291.6" y="576.9" width="5.1" height="2.5" fill="#1c3d91"/>
<rect x="296.4" y="576.9" width="2.7" height="2.5" fill="#214fa0"/>
<rect x="298.8" y="576.9" width="2.7" height="2.5" fill="#2f6cb7"/>
<rect x="301.2" y="576.9" width="2.7" height="2.5" fill="#5096d3"/>
<rect x="303.7" y="576.9" width="2.7" height="2.5" fill="#79b6e4"/>
<rect x="306.1" y="576.9" width="2.7" height="2.5" fill="#9fcbee"/>
<rect x="308.5" y="576.9" width="2.7" height="2.5" fill="#badaf4"/>
<rect x="310.9" y="576.9" width="2.7" height="2.5" fill="#d3e8f8"/>
<rect x="313.3" y="576.9" width="2.7" height="2.5" fill="#e2effb"/>
<rect x="315.7" y="576.9" width="2.7" height="2.5" fill="#ecf4fc"/>
<rect x="318.1" y="576.9" width="2.7" height="2.5" fill="#f1f7fd"/>
<rect x="320.5" y="576.9" width="2.7" height="2.5" fill="#f5fafe"/>
<rect x="262.8" y="579.1" width="2.7" height="2.5" fill="#f5fafe"/>
<rect x="265.2" y="579.1" width="2.7" height="2.5" fill="#f1f7fd"/>
<rect x="267.6" y="579.1" width="2.7" height="2.5" fill="#e7f2fc"/>
<rect x="270.0" y="579.1" width="2.7" height="2.5" fill="#ddecfa"/>
<rect x="272.4" y="579.1" width="2.7" height="2.5" fill="#cde5f7"/>
<rect x="274.8" y="579.1" width="2.7" height="2.5" fill="#b4d6f2"/>
<rect x="277.2" y="579.1" width="2.7" height="2.5" fill="#90c3ea"/>
<rect x="279.6" y="579.1" width="2.7" height="2.5" fill="#6aaee0"/>
<rect x="282.0" y="579.1" width="2.7" height="2.5" fill="#498fcf"/>
<rect x="284.4" y="579.1" width="2.7" height="2.5" fill="#3272bc"/>
<rect x="286.8" y="579.1" width="2.7" height="2.5" fill="#255aaa"/>
<rect x="289.2" y="579.1" width="5.1" height="2.5" fill="#214fa0"/>
<rect x="294.0" y="579.1" width="2.7" height="2.5" fill="#2860ae"/>
<rect x="296.4" y="579.1" width="2.7" height="2.5" fill="#3578c0"/>
<rect x="298.8" y="579.1" width="2.7" height="2.5" fill="#5096d3"/>
<rect x="301.2" y="579.1" width="2.7" height="2.5" fill="#72b2e2"/>
<rect x="303.7" y="579.1" width="2.7" height="2.5" fill="#98c7ec"/>
<rect x="306.1" y="579.1" width="2.7" height="2.5" fill="#badaf4"/>
<rect x="308.5" y="579.1" width="2.7" height="2.5" fill="#cde5f7"/>
<rect x="310.9" y="579.1" width="2.7" height="2.5" fill="#ddecfa"/>
<rect x="313.3" y="579.1" width="2.7" height="2.5" fill="#ecf4fc"/>
<rect x="315.7" y="579.1" width="2.7" height="2.5" fill="#f1f7fd"/>
<rect x="318.1" y="579.1" width="2.7" height="2.5" fill="#f5fafe"/>
<rect x="260.4" y="581.4" width="2.7" height="2.5" fill="#f5fafe"/>
<rect x="262.8" y="581.4" width="2.7" height="2.5" fill="#f1f7fd"/>
<rect x="265.2" y="581.4" width="2.7" height="2.5" fill="#e7f2fc"/>
<rect x="267.6" y="581.4" width="2.7" height="2.5" fill="#ddecfa"/>
<rect x="270.0" y="581.4" width="2.7" height="2.5" fill="#cde5f7"/>
<rect x="272.4" y="581.4" width="2.7" height="2.5" fill="#badaf4"/>
<rect x="274.8" y="581.4" width="2.7" height="2.5" fill="#9fcbee"/>
<rect x="277.2" y="581.4" width="2.7" height="2.5" fill="#79b6e4"/>
<rect x="279.6" y="581.4" width="2.7" height="2.5" fill="#569cd6"/>
<rect x="282.0" y="581.4" width="2.7" height="2.5" fill="#3c83c9"/>
<rect x="284.4" y="581.4" width="2.7" height="2.5" fill="#2f6cb7"/>
<rect x="286.8" y="581.4" width="5.1" height="2.5" fill="#2860ae"/>
<rect x="291.6" y="581.4" width="2.7" height="2.5" fill="#2f6cb7"/>
<rect x="294.0" y="581.4" width="2.7" height="2.5" fill="#3c83c9"/>
<rect x="296.4" y="581.4" width="2.7" height="2.5" fill="#569cd6"/>
<rect x="298.8" y="581.4" width="2.7" height="2.5" fill="#79b6e4"/>
<rect x="301.2" y="581.4" width="2.7" height="2.5" fill="#98c7ec"/>
<rect x="303.7" y="581.4" width="2.7" height="2.5" fill="#b4d6f2"/>
<rect x="306.1" y="581.4" width="2.7" height="2.5" fill="#cde5f7"/>
<rect x="308.5" y="581.4" width="2.7" height="2.5" fill="#ddecfa"/>
<rect x="310.9" y="581.4" width="2.7" height="2.5" fill="#e7f2fc"/>
<rect x="313.3" y="581.4" width="2.7" height="2.5" fill="#f1f7fd"/>
<rect x="315.7" y="581.4" width="2.7" height="2.5" fill="#f5fafe"/>
<rect x="257.9" y="583.6" width="2.7" height="2.5" fill="#fafcfe"/>
<rect x="260.4" y="583.6" width="2.7" height="2.5" fill="#f1f7fd"/>
<rect x="262.8" y="583.6" width="2.7" height="2.5" fill="#ecf4fc"/>
<rect x="265.2" y="583.6" width="2.7" height="2.5" fill="#e2effb"/>
<rect x="267.6" y="583.6" width="2.7" height="2.5" fill="#d3e8f8"/>
<rect x="270.0" y="583.6" width="2.7" height="2.5" fill="#c1def5"/>
<rect x="272.4" y="583.6" width="2.7" height="2.5" fill="#a7cff0"/>
<rect x="274.8" y="583.6" width="2.7" height="2.5" fill="#88bfe8"/>
<rect x="277.2" y="583.6" width="2.7" height="2.5" fill="#6aaee0"/>
<rect x="279.6" y="583.6" width="2.7" height="2.5" fill="#498fcf"/>
<rect x="282.0" y="583.6" width="2.7" height="2.5" fill="#387dc4"/>
<rect x="284.4" y="583.6" width="5.1" height="2.5" fill="#3272bc"/>
<rect x="289.2" y="583.6" width="2.7" height="2.5" fill="#3578c0"/>
<rect x="291.6" y="583.6" width="2.7" height="2.5" fill="#4389cc"/>
<rect x="294.0" y="583.6" width="2.7" height="2.5" fill="#63a8dd"/>
<rect x="296.4" y="583.6" width="2.7" height="2.5" fill="#81bae6"/>
<rect x="298.8" y="583.6" width="2.7" height="2.5" fill="#9fcbee"/>
<rect x="301.2" y="583.6" width="2.7" height="2.5" fill="#badaf4"/>
<rect x="303.7" y="583.6" width="2.7" height="2.5" fill="#cde5f7"/>
<rect x="306.1" y="583.6" width="2.7" height="2.5" fill="#ddecfa"/>
<rect x="308.5" y="583.6" width="2.7" height="2.5" fill="#e7f2fc"/>
<rect x="310.9" y="583.6" width="2.7" height="2.5" fill="#f1f7fd"/>
<rect x="313.3" y="583.6" width="2.7" height="2.5" fill="#f5fafe"/>
<rect x="255.5" y="585.8" width="2.7" height="2.5" fill="#fafcfe"/>
<rect x="257.9" y="585.8" width="2.7" height="2.5" fill="#f5fafe"/>
<rect x="260.4" y="585.8" width="2.7" height="2.5" fill="#ecf4fc"/>
<rect x="262.8" y="585.8" width="2.7" height="2.5" fill="#e2effb"/>
<rect x="265.2" y="585.8" width="2.7" height="2.5" fill="#d8eaf9"/>
<rect x="267.6" y="585.8" width="2.7" height="2.5" fill="#c1def5"/>
<rect x="270.0" y="585.8" width="2.7" height="2.5" fill="#add3f1"/>
<rect x="272.4" y="585.8" width="2.7" height="2.5" fill="#90c3ea"/>
<rect x="274.8" y="585.8" width="2.7" height="2.5" fill="#72b2e2"/>
<rect x="277.2" y="585.8" width="2.7" height="2.5" fill="#569cd6"/>
<rect x="279.6" y="585.8" width="2.7" height="2.5" fill="#498fcf"/>
<rect x="282.0" y="585.8" width="2.7" height="2.5" fill="#3c83c9"/>
<rect x="284.4" y="585.8" width="2.7" height="2.5" fill="#387dc4"/>
<rect x="286.8" y="585.8" width="2.7" height="2.5" fill="#4389cc"/>
<rect x="289.2" y="585.8" width="2.7" height="2.5" fill="#5096d3"/>
<rect x="291.6" y="585.8" width="2.7" height="2.5" fill="#6aaee0"/>
<rect x="294.0" y="585.8" width="2.7" height="2.5" fill="#88bfe8"/>
<rect x="296.4" y="585.8" width="2.7" height="2.5" fill="#a7cff0"/>
<rect x="298.8" y="585.8" width="2.7" height="2.5" fill="#badaf4"/>
<rect x="301.2" y="585.8" width="2.7" height="2.5" fill="#cde5f7"/>
<rect x="303.7" y="585.8" width="2.7" height="2.5" fill="#ddecfa"/>
<rect x="306.1" y="585.8" width="2.7" height="2.5" fill="#e7f2fc"/>
<rect x="308.5" y="585.8" width="2.7" height="2.5" fill="#f1f7fd"/>
<rect x="310.9" y="585.8" width="2.7" height="2.5" fill="#f5fafe"/>
<rect x="313.3" y="585.8" width="2.7" height="2.5" fill="#fafcfe"/>
<rect x="255.5" y="588.0" width="2.7" height="2.5" fill="#f5fafe"/>
<rect x="257.9" y="588.0" width="2.7" height="2.5" fill="#f1f7fd"/>
<rect x="260.4" y="588.0" width="2.7" height="2.5" fill="#e7f2fc"/>
<rect x="262.8" y="588.0" width="2.7" height="2.5" fill="#d8eaf9"/>
<rect x="265.2" y="588.0" width="2.7" height="2.5" fill="#c7e1f6"/>
<rect x="267.6" y="588.0" width="2.7" height="2.5" fill="#b4d6f2"/>
<rect x="270.0" y="588.0" width="2.7" height="2.5" fill="#98c7ec"/>
<rect x="272.4" y="588.0" width="2.7" height="2.5" fill="#79b6e4"/>
<rect x="274.8" y="588.0" width="2.7" height="2.5" fill="#63a8dd"/>
<rect x="277.2" y="588.0" width="2.7" height="2.5" fill="#5096d3"/>
<rect x="279.6" y="588.0" width="5.1" height="2.5" fill="#498fcf"/>
<rect x="284.4" y="588.0" width="2.7" height="2.5" fill="#5096d3"/>
<rect x="286.8" y="588.0" width="2.7" height="2.5" fill="#5da2d9"/>
<rect x="289.2" y="588.0" width="2.7" height="2.5" fill="#79b6e4"/>
<rect x="291.6" y="588.0" width="2.7" height="2.5" fill="#90c3ea"/>
<rect x="294.0" y="588.0" width="2.7" height="2.5" fill="#add3f1"/>
<rect x="296.4" y="588.0" width="2.7" height="2.5" fill="#c1def5"/>
<rect x="298.8" y="588.0" width="2.7" height="2.5" fill="#d3e8f8"/>
<rect x="301.2" y="588.0" width="2.7" height="2.5" fill="#ddecfa"/>
<rect x="303.7" y="588.0" width="2.7" height="2.5" fill="#e7f2fc"/>
<rect x="306.1" y="588.0" width="2.7" height="2.5" fill="#f1f7fd"/>
<rect x="308.5" y="588.0" width="2.7" height="2.5" fill="#f5fafe"/>
<rect x="310.9" y="588.0" width="2.7" height="2.5" fill="#fafcfe"/>
<rect x="253.1" y="590.3" width="2.7" height="2.5" fill="#f5fafe"/>
<rect x="255.5" y="590.3" width="2.7" height="2.5" fill="#f1f7fd"/>
<rect x="257.9" y="590.3" width="2.7" height="2.5" fill="#e7f2fc"/>
<rect x="260.4" y="590.3" width="2.7" height="2.5" fill="#ddecfa"/>
<rect x="262.8" y="590.3" width="2.7" height="2.5" fill="#cde5f7"/>
<rect x="265.2" y="590.3" width="2.7" height="2.5" fill="#badaf4"/>
<rect x="267.6" y="590.3" width="2.7" height="2.5" fill="#9fcbee"/>
<rect x="270.0" y="590.3" width="2.7" height="2.5" fill="#88bfe8"/>
<rect x="272.4" y="590.3" width="2.7" height="2.5" fill="#72b2e2"/>
<rect x="274.8" y="590.3" width="2.7" height="2.5" fill="#5da2d9"/>
<rect x="277.2" y="590.3" width="5.1" height="2.5" fill="#569cd6"/>
<rect x="282.0" y="590.3" width="2.7" height="2.5" fill="#5da2d9"/>
<rect x="284.4" y="590.3" width="2.7" height="2.5" fill="#6aaee0"/>
<rect x="286.8" y="590.3" width="2.7" height="2.5" fill="#81bae6"/>
<rect x="289.2" y="590.3" width="2.7" height="2.5" fill="#98c7ec"/>
<rect x="291.6" y="590.3" width="2.7" height="2.5" fill="#b4d6f2"/>
<rect x="294.0" y="590.3" width="2.7" height="2.5" fill="#c7e1f6"/>
<rect x="296.4" y="590.3" width="2.7" height="2.5" fill="#d8eaf9"/>
<rect x="298.8" y="590.3" width="2.7" height="2.5" fill="#e2effb"/>
<rect x="301.2" y="590.3" width="2.7" height="2.5" fill="#ecf4fc"/>
<rect x="303.7" y="590.3" width="2.7" height="2.5" fill="#f1f7fd"/>
<rect x="306.1" y="590.3" width="2.7" height="2.5" fill="#f5fafe"/>
<rect x="308.5" y="590.3" width="2.7" height="2.5" fill="#fafcfe"/>
<rect x="250.7" y="592.5" width="2.7" height="2.5" fill="#f5fafe"/>
<rect x="253.1" y="592.5" width="2.7" height="2.5" fill="#f1f7fd"/>
<rect x="255.5" y="592.5" width="2.7" height="2.5" fill="#ecf4fc"/>
<rect x="257.9" y="592.5" width="2.7" height="2.5" fill="#e2effb"/>
<rect x="260.4" y="592.5" width="2.7" height="2.5" fill="#d3e8f8"/>
<rect x="262.8" y="592.5" width="2.7" height="2.5" fill="#c1def5"/>
<rect x="265.2" y="592.5" width="2.7" height="2.5" fill="#add3f1"/>
<rect x="267.6" y="592.5" width="2.7" height="2.5" fill="#90c3ea"/>
<rect x="270.0" y="592.5" width="2.7" height="2.5" fill="#79b6e4"/>
<rect x="272.4" y="592.5" width="2.7" height="2.5" fill="#6aaee0"/>
<rect x="274.8" y="592.5" width="5.1" height="2.5" fill="#63a8dd"/>
<rect x="279.6" y="592.5" width="2.7" height="2.5" fill="#6aaee0"/>
<rect x="282.0" y="592.5" width="2.7" height="2.5" fill="#79b6e4"/>
<rect x="284.4" y="592.5" width="2.7" height="2.5" fill="#90c3ea"/>
<rect x="286.8" y="592.5" width="2.7" height="2.5" fill="#a7cff0"/>
<rect x="289.2" y="592.5" width="2.7" height="2.5" fill="#badaf4"/>
<rect x="291.6" y="592.5" width="2.7" height="2.5" fill="#cde5f7"/>
<rect x="294.0" y="592.5" width="2.7" height="2.5" fill="#d8eaf9"/>
<rect x="296.4" y="592.5" width="2.7" height="2.5" fill="#e2effb"/>
<rect x="298.8" y="592.5" width="2.7" height="2.5" fill="#ecf4fc"/>
<rect x="301.2" y="592.5" width="2.7" height="2.5" fill="#f1f7fd"/>
<rect x="303.7" y="592.5" width="2.7" height="2.5" fill="#f5fafe"/>
<rect x="248.3" y="594.7" width="2.7" height="2.5" fill="#fafcfe"/>
<rect x="250.7" y="594.7" width="2.7" height="2.5" fill="#f5fafe"/>
<rect x="253.1" y="594.7" width="2.7" height="2.5" fill="#ecf4fc"/>
<rect x="255.5" y="594.7" width="2.7" height="2.5" fill="#e2effb"/>
<rect x="257.9" y="594.7" width="2.7" height="2.5" fill="#d8eaf9"/>
<rect x="260.4" y="594.7" width="2.7" height="2.5" fill="#c7e1f6"/>
<rect x="262.8" y="594.7" width="2.7" height="2.5" fill="#b4d6f2"/>
<rect x="265.2" y="594.7" width="2.7" height="2.5" fill="#9fcbee"/>
<rect x="267.6" y="594.7" width="2.7" height="2.5" fill="#88bfe8"/>
<rect x="270.0" y="594.7" width="2.7" height="2.5" fill="#79b6e4"/>
<rect x="272.4" y="594.7" width="5.1" height="2.5" fill="#6aaee0"/>
<rect x="277.2" y="594.7" width="2.7" height="2.5" fill="#72b2e2"/>
<rect x="279.6" y="594.7" width="2.7" height="2.5" fill="#81bae6"/>
<rect x="282.0" y="594.7" width="2.7" height="2.5" fill="#98c7ec"/>
<rect x="284.4" y="594.7" width="2.7" height="2.5" fill="#add3f1"/>
<rect x="286.8" y="594.7" width="2.7" height="2.5" fill="#c1def5"/>
<rect x="289.2" y="594.7" width="2.7" height="2.5" fill="#cde5f7"/>
<rect x="291.6" y="594.7" width="2.7" height="2.5" fill="#ddecfa"/>
<rect x="294.0" y="594.7" width="2.7" height="2.5" fill="#e7f2fc"/>
<rect x="296.4" y="594.7" width="2.7" height="2.5" fill="#ecf4fc"/>
<rect x="298.8" y="594.7" width="2.7" height="2.5" fill="#f1f7fd"/>
<rect x="301.2" y="594.7" width="2.7" height="2.5" fill="#f5fafe"/>
<rect x="248.3" y="596.9" width="2.7" height="2.5" fill="#f5fafe"/>
<rect x="250.7" y="596.9" width="2.7" height="2.5" fill="#f1f7fd"/>
<rect x="253.1" y="596.9" width="2.7" height="2.5" fill="#e7f2fc"/>
<rect x="255.5" y="596.9" width="2.7" height="2.5" fill="#ddecfa"/>
<rect x="257.9" y="596.9" width="2.7" height="2.5" fill="#cde5f7"/>
<rect x="260.4" y="596.9" width="2.7" height="2.5" fill="#badaf4"/>
<rect x="262.8" y="596.9" width="2.7" height="2.5" fill="#a7cff0"/>
<rect x="265.2" y="596.9" width="2.7" height="2.5" fill="#90c3ea"/>
<rect x="267.6" y="596.9" width="2.7" height="2.5" fill="#81bae6"/>
<rect x="270.0" y="596.9" width="5.1" height="2.5" fill="#79b6e4"/>
<rect x="274.8" y="596.9" width="2.7" height="2.5" fill="#81bae6"/>
<rect x="277.2" y="596.9" width="2.7" height="2.5" fill="#88bfe8"/>
<rect x="279.6" y="596.9" width="2.7" height="2.5" fill="#9fcbee"/>
<rect x="282.0" y="596.9" width="2.7" height="2.5" fill="#b4d6f2"/>
<rect x="284.4" y="596.9" width="2.7" height="2.5" fill="#c1def5"/>
<rect x="286.8" y="596.9" width="2.7" height="2.5" fill="#d3e8f8"/>
<rect x="289.2" y="596.9" width="2.7" height="2.5" fill="#ddecfa"/>
<rect x="291.6" y="596.9" width="2.7" height="2.5" fill="#e7f2fc"/>
<rect x="294.0" y="596.9" width="2.7" height="2.5" fill="#f1f7fd"/>
<rect x="296.4" y="596.9" width="5.1" height="2.5" fill="#f5fafe"/>
<rect x="245.9" y="599.2" width="2.7" height="2.5" fill="#f5fafe"/>
<rect x="248.3" y="599.2" width="2.7" height="2.5" fill="#f1f7fd"/>
<rect x="250.7" y="599.2" width="2.7" height="2.5" fill="#ecf4fc"/>
<rect x="253.1" y="599.2" width="2.7" height="2.5" fill="#ddecfa"/>
<rect x="255.5" y="599.2" width="2.7" height="2.5" fill="#d3e8f8"/>
<rect x="257.9" y="599.2" width="2.7" height="2.5" fill="#c1def5"/>
<rect x="260.4" y="599.2" width="2.7" height="2.5" fill="#add3f1"/>
<rect x="262.8" y="599.2" width="2.7" height="2.5" fill="#9fcbee"/>
<rect x="265.2" y="599.2" width="2.7" height="2.5" fill="#90c3ea"/>
<rect x="267.6" y="599.2" width="7.5" height="2.5" fill="#88bfe8"/>
<rect x="274.8" y="599.2" width="2.7" height="2.5" fill="#98c7ec"/>
<rect x="277.2" y="599.2" width="2.7" height="2.5" fill="#a7cff0"/>
<rect x="279.6" y="599.2" width="2.7" height="2.5" fill="#badaf4"/>
<rect x="282.0" y="599.2" width="2.7" height="2.5" fill="#c7e1f6"/>
<rect x="284.4" y="599.2" width="2.7" height="2.5" fill="#d8eaf9"/>
<rect x="286.8" y="599.2" width="2.7" height="2.5" fill="#e2effb"/>
<rect x="289.2" y="599.2" width="2.7" height="2.5" fill="#ecf4fc"/>
<rect x="291.6" y="599.2" width="2.7" height="2.5" fill="#f1f7fd"/>
<rect x="294.0" y="599.2" width="2.7" height="2.5" fill="#f5fafe"/>
<rect x="296.4" y="599.2" width="2.7" height="2.5" fill="#fafcfe"/>
<rect x="243.5" y="601.4" width="2.7" height="2.5" fill="#fafcfe"/>
<rect x="245.9" y="601.4" width="2.7" height="2.5" fill="#f5fafe"/>
<rect x="248.3" y="601.4" width="2.7" height="2.5" fill="#ecf4fc"/>
<rect x="250.7" y="601.4" width="2.7" height="2.5" fill="#e2effb"/>
<rect x="253.1" y="601.4" width="2.7" height="2.5" fill="#d8eaf9"/>
<rect x="255.5" y="601.4" width="2.7" height="2.5" fill="#c7e1f6"/>
<rect x="257.9" y="601.4" width="2.7" height="2.5" fill="#badaf4"/>
<rect x="260.4" y="601.4" width="2.7" height="2.5" fill="#a7cff0"/>
<rect x="262.8" y="601.4" width="2.7" height="2.5" fill="#98c7ec"/>
<rect x="265.2" y="601.4" width="5.1" height="2.5" fill="#90c3ea"/>
<rect x="270.0" y="601.4" width="2.7" height="2.5" fill="#98c7ec"/>
<rect x="272.4" y="601.4" width="2.7" height="2.5" fill="#9fcbee"/>
<rect x="274.8" y="601.4" width="2.7" height="2.5" fill="#add3f1"/>
<rect x="277.2" y="601.4" width="2.7" height="2.5" fill="#c1def5"/>
<rect x="279.6" y="601.4" width="2.7" height="2.5" fill="#cde5f7"/>
<rect x="282.0" y="601.4" width="2.7" height="2.5" fill="#d8eaf9"/>
<rect x="284.4" y="601.4" width="2.7" height="2.5" fill="#e2effb"/>
<rect x="286.8" y="601.4" width="2.7" height="2.5" fill="#ecf4fc"/>
<rect x="289.2" y="601.4" width="2.7" height="2.5" fill="#f1f7fd"/>
<rect x="291.6" y="601.4" width="2.7" height="2.5" fill="#f5fafe"/>
<rect x="241.1" y="603.6" width="2.7" height="2.5" fill="#fafcfe"/>
<rect x="243.5" y="603.6" width="2.7" height="2.5" fill="#f5fafe"/>
<rect x="245.9" y="603.6" width="2.7" height="2.5" fill="#f1f7fd"/>
<rect x="248.3" y="603.6" width="2.7" height="2.5" fill="#e7f2fc"/>
<rect x="250.7" y="603.6" width="2.7" height="2.5" fill="#ddecfa"/>
<rect x="253.1" y="603.6" width="2.7" height="2.5" fill="#cde5f7"/>
<rect x="255.5" y="603.6" width="2.7" height="2.5" fill="#c1def5"/>
<rect x="257.9" y="603.6" width="2.7" height="2.5" fill="#b4d6f2"/>
<rect x="260.4" y="603.6" width="2.7" height="2.5" fill="#a7cff0"/>
<rect x="262.8" y="603.6" width="7.5" height="2.5" fill="#9fcbee"/>
<rect x="270.0" y="603.6" width="2.7" height="2.5" fill="#add3f1"/>
<rect x="272.4" y="603.6" width="2.7" height="2.5" fill="#b4d6f2"/>
<rect x="274.8" y="603.6" width="2.7" height="2.5" fill="#c7e1f6"/>
<rect x="277.2" y="603.6" width="2.7" height="2.5" fill="#d3e8f8"/>
<rect x="279.6" y="603.6" width="2.7" height="2.5" fill="#ddecfa"/>
<rect x="282.0" y="603.6" width="2.7" height="2.5" fill="#e7f2fc"/>
<rect x="284.4" y="603.6" width="2.7" height="2.5" fill="#ecf4fc"/>
<rect x="286.8" y="603.6" width="2.7" height="2.5" fill="#f1f7fd"/>
<rect x="289.2" y="603.6" width="2.7" height="2.5" fill="#f5fafe"/>
<rect x="241.1" y="605.8" width="2.7" height="2.5" fill="#f5fafe"/>
<rect x="243.5" y="605.8" width="2.7" height="2.5" fill="#f1f7fd"/>
<rect x="245.9" y="605.8" width="2.7" height="2.5" fill="#ecf4fc"/>
<rect x="248.3" y="605.8" width="2.7" height="2.5" fill="#e2effb"/>
<rect x="250.7" y="605.8" width="2.7" height="2.5" fill="#d3e8f8"/>
<rect x="253.1" y="605.8" width="2.7" height="2.5" fill="#c7e1f6"/>
<rect x="255.5" y="605.8" width="2.7" height="2.5" fill="#badaf4"/>
<rect x="257.9" y="605.8" width="2.7" height="2.5" fill="#add3f1"/>
<rect x="260.4" y="605.8" width="5.1" height="2.5" fill="#a7cff0"/>
<rect x="265.2" y="605.8" width="2.7" height="2.5" fill="#add3f1"/>
<rect x="267.6" y="605.8" width="2.7" height="2.5" fill="#b4d6f2"/>
<rect x="270.0" y="605.8" width="2.7" height="2.5" fill="#c1def5"/>
<rect x="272.4" y="605.8" width="2.7" height="2.5" fill="#cde5f7"/>
<rect x="274.8" y="605.8" width="2.7" height="2.5" fill="#d8eaf9"/>
<rect x="277.2" y="605.8" width="2.7" height="2.5" fill="#e2effb"/>
<rect x="279.6" y="605.8" width="2.7" height="2.5" fill="#e7f2fc"/>
<rect x="282.0" y="605.8" width="2.7" height="2.5" fill="#f1f7fd"/>
<rect x="284.4" y="605.8" width="5.1" height="2.5" fill="#f5fafe"/>
<rect x="238.7" y="608.0" width="2.7" height="2.5" fill="#f5fafe"/>
<rect x="241.1" y="608.0" width="2.7" height="2.5" fill="#f1f7fd"/>
<rect x="243.5" y="608.0" width="2.7" height="2.5" fill="#ecf4fc"/>
<rect x="245.9" y="608.0" width="2.7" height="2.5" fill="#e2effb"/>
<rect x="248.3" y="608.0" width="2.7" height="2.5" fill="#d8eaf9"/>
<rect x="250.7" y="608.0" width="2.7" height="2.5" fill="#cde5f7"/>
<rect x="253.1" y="608.0" width="2.7" height="2.5" fill="#c1def5"/>
<rect x="255.5" y="608.0" width="2.7" height="2.5" fill="#badaf4"/>
<rect x="257.9" y="608.0" width="2.7" height="2.5" fill="#b4d6f2"/>
<rect x="260.4" y="608.0" width="2.7" height="2.5" fill="#add3f1"/>
<rect x="262.8" y="608.0" width="2.7" height="2.5" fill="#b4d6f2"/>
<rect x="265.2" y="608.0" width="2.7" height="2.5" fill="#badaf4"/>
<rect x="267.6" y="608.0" width="2.7" height="2.5" fill="#c7e1f6"/>
<rect x="270.0" y="608.0" width="2.7" height="2.5" fill="#d3e8f8"/>
<rect x="272.4" y="608.0" width="2.7" height="2.5" fill="#d8eaf9"/>
<rect x="274.8" y="608.0" width="2.7" height="2.5" fill="#e2effb"/>
<rect x="277.2" y="608.0" width="2.7" height="2.5" fill="#ecf4fc"/>
<rect x="279.6" y="608.0" width="2.7" height="2.5" fill="#f1f7fd"/>
<rect x="282.0" y="608.0" width="2.7" height="2.5" fill="#f5fafe"/>
<rect x="284.4" y="608.0" width="2.7" height="2.5" fill="#fafcfe"/>
<rect x="236.3" y="610.3" width="2.7" height="2.5" fill="#fafcfe"/>
<rect x="238.7" y="610.3" width="2.7" height="2.5" fill="#f5fafe"/>
<rect x="241.1" y="610.3" width="2.7" height="2.5" fill="#f1f7fd"/>
<rect x="243.5" y="610.3" width="2.7" height="2.5" fill="#e7f2fc"/>
<rect x="245.9" y="610.3" width="2.7" height="2.5" fill="#ddecfa"/>
<rect x="248.3" y="610.3" width="2.7" height="2.5" fill="#d3e8f8"/>
<rect x="250.7" y="610.3" width="2.7" height="2.5" fill="#cde5f7"/>
<rect x="253.1" y="610.3" width="2.7" height="2.5" fill="#c1def5"/>
<rect x="255.5" y="610.3" width="7.5" height="2.5" fill="#badaf4"/>
<rect x="262.8" y="610.3" width="2.7" height="2.5" fill="#c1def5"/>
<rect x="265.2" y="610.3" width="2.7" height="2.5" fill="#cde5f7"/>
<rect x="267.6" y="610.3" width="2.7" height="2.5" fill="#d3e8f8"/>
<rect x="270.0" y="610.3" width="2.7" height="2.5" fill="#ddecfa"/>
<rect x="272.4" y="610.3" width="2.7" height="2.5" fill="#e7f2fc"/>
<rect x="274.8" y="610.3" width="2.7" height="2.5" fill="#ecf4fc"/>
<rect x="277.2" y="610.3" width="2.7" height="2.5" fill="#f1f7fd"/>
<rect x="279.6" y="610.3" width="2.7" height="2.5" fill="#f5fafe"/>
<rect x="236.3" y="612.5" width="2.7" height="2.5" fill="#f5fafe"/>
<rect x="238.7" y="612.5" width="2.7" height="2.5" fill="#f1f7fd"/>
<rect x="241.1" y="612.5" width="2.7" height="2.5" fill="#ecf4fc"/>
<rect x="243.5" y="612.5" width="2.7" height="2.5" fill="#e2effb"/>
<rect x="245.9" y="612.5" width="2.7" height="2.5" fill="#d8eaf9"/>
<rect x="248.3" y="612.5" width="2.7" height="2.5" fill="#d3e8f8"/>
<rect x="250.7" y="612.5" width="2.7" height="2.5" fill="#c7e1f6"/>
<rect x="253.1" y="612.5" width="7.5" height="2.5" fill="#c1def5"/>
<rect x="260.4" y="612.5" width="2.7" height="2.5" fill="#c7e1f6"/>
<rect x="262.8" y="612.5" width="2.7" height="2.5" fill="#d3e8f8"/>
<rect x="265.2" y="612.5" width="2.7" height="2.5" fill="#d8eaf9"/>
<rect x="267.6" y="612.5" width="2.7" height="2.5" fill="#e2effb"/>
<rect x="270.0" y="612.5" width="2.7" height="2.5" fill="#e7f2fc"/>
<rect x="272.4" y="612.5" width="2.7" height="2.5" fill="#f1f7fd"/>
<rect x="274.8" y="612.5" width="5.1" height="2.5" fill="#f5fafe"/>
<rect x="233.9" y="614.7" width="2.7" height="2.5" fill="#fafcfe"/>
<rect x="236.3" y="614.7" width="2.7" height="2.5" fill="#f5fafe"/>
<rect x="238.7" y="614.7" width="2.7" height="2.5" fill="#ecf4fc"/>
<rect x="241.1" y="614.7" width="2.7" height="2.5" fill="#e7f2fc"/>
<rect x="243.5" y="614.7" width="2.7" height="2.5" fill="#ddecfa"/>
<rect x="245.9" y="614.7" width="2.7" height="2.5" fill="#d8eaf9"/>
<rect x="248.3" y="614.7" width="2.7" height="2.5" fill="#d3e8f8"/>
<rect x="250.7" y="614.7" width="7.5" height="2.5" fill="#cde5f7"/>
<rect x="257.9" y="614.7" width="2.7" height="2.5" fill="#d3e8f8"/>
<rect x="260.4" y="614.7" width="2.7" height="2.5" fill="#d8eaf9"/>
<rect x="262.8" y="614.7" width="2.7" height="2.5" fill="#ddecfa"/>
<rect x="265.2" y="614.7" width="2.7" height="2.5" fill="#e2effb"/>
<rect x="267.6" y="614.7" width="2.7" height="2.5" fill="#ecf4fc"/>
<rect x="270.0" y="614.7" width="2.7" height="2.5" fill="#f1f7fd"/>
<rect x="272.4" y="614.7" width="2.7" height="2.5" fill="#f5fafe"/>
<rect x="274.8" y="614.7" width="2.7" height="2.5" fill="#fafcfe"/>
<rect x="233.9" y="616.9" width="2.7" height="2.5" fill="#f5fafe"/>
<rect x="236.3" y="616.9" width="2.7" height="2.5" fill="#f1f7fd"/>
<rect x="238.7" y="616.9" width="2.7" height="2.5" fill="#ecf4fc"/>
<rect x="241.1" y="616.9" width="2.7" height="2.5" fill="#e2effb"/>
<rect x="243.5" y="616.9" width="2.7" height="2.5" fill="#ddecfa"/>
<rect x="245.9" y="616.9" width="2.7" height="2.5" fill="#d8eaf9"/>
<rect x="248.3" y="616.9" width="7.5" height="2.5" fill="#d3e8f8"/>
<rect x="255.5" y="616.9" width="2.7" height="2.5" fill="#d8eaf9"/>
<rect x="257.9" y="616.9" width="2.7" height="2.5" fill="#ddecfa"/>
<rect x="260.4" y="616.9" width="2.7" height="2.5" fill="#e2effb"/>
<rect x="262.8" y="616.9" width="2.7" height="2.5" fill="#e7f2fc"/>
<rect x="265.2" y="616.9" width="2.7" height="2.5" fill="#ecf4fc"/>
<rect x="267.6" y="616.9" width="2.7" height="2.5" fill="#f1f7fd"/>
<rect x="270.0" y="616.9" width="2.7" height="2.5" fill="#f5fafe"/>
<rect x="272.4" y="616.9" width="2.7" height="2.5" fill="#fafcfe"/>
<rect x="231.5" y="619.2" width="2.7" height="2.5" fill="#fafcfe"/>
<rect x="233.9" y="619.2" width="2.7" height="2.5" fill="#f5fafe"/>
<rect x="236.3" y="619.2" width="2.7" height="2.5" fill="#f1f7fd"/>
<rect x="238.7" y="619.2" width="2.7" height="2.5" fill="#e7f2fc"/>
<rect x="241.1" y="619.2" width="2.7" height="2.5" fill="#e2effb"/>
<rect x="243.5" y="619.2" width="2.7" height="2.5" fill="#ddecfa"/>
<rect x="245.9" y="619.2" width="7.5" height="2.5" fill="#d8eaf9"/>
<rect x="253.1" y="619.2" width="2.7" height="2.5" fill="#ddecfa"/>
<rect x="255.5" y="619.2" width="2.7" height="2.5" fill="#e2effb"/>
<rect x="257.9" y="619.2" width="2.7" height="2.5" fill="#e7f2fc"/>
<rect x="260.4" y="619.2" width="2.7" height="2.5" fill="#ecf4fc"/>
<rect x="262.8" y="619.2" width="2.7" height="2.5" fill="#f1f7fd"/>
<rect x="265.2" y="619.2" width="5.1" height="2.5" fill="#f5fafe"/>
<rect x="231.5" y="621.4" width="2.7" height="2.5" fill="#f5fafe"/>
<rect x="233.9" y="621.4" width="2.7" height="2.5" fill="#f1f7fd"/>
<rect x="236.3" y="621.4" width="2.7" height="2.5" fill="#ecf4fc"/>
<rect x="238.7" y="621.4" width="2.7" height="2.5" fill="#e7f2fc"/>
<rect x="241.1" y="621.4" width="2.7" height="2.5" fill="#e2effb"/>
<rect x="243.5" y="621.4" width="7.5" height="2.5" fill="#ddecfa"/>
<rect x="250.7" y="621.4" width="5.1" height="2.5" fill="#e2effb"/>
<rect x="255.5" y="621.4" width="2.7" height="2.5" fill="#e7f2fc"/>
<rect x="257.9" y="621.4" width="2.7" height="2.5" fill="#ecf4fc"/>
<rect x="260.4" y="621.4" width="2.7" height="2.5" fill="#f1f7fd"/>
<rect x="262.8" y="621.4" width="2.7" height="2.5" fill="#f5fafe"/>
<rect x="265.2" y="621.4" width="2.7" height="2.5" fill="#fafcfe"/>
<rect x="229.1" y="623.6" width="2.7" height="2.5" fill="#fafcfe"/>
<rect x="231.5" y="623.6" width="2.7" height="2.5" fill="#f5fafe"/>
<rect x="233.9" y="623.6" width="2.7" height="2.5" fill="#f1f7fd"/>
<rect x="236.3" y="623.6" width="2.7" height="2.5" fill="#ecf4fc"/>
<rect x="238.7" y="623.6" width="5.1" height="2.5" fill="#e7f2fc"/>
<rect x="243.5" y="623.6" width="7.5" height="2.5" fill="#e2effb"/>
<rect x="250.7" y="623.6" width="2.7" height="2.5" fill="#e7f2fc"/>
<rect x="253.1" y="623.6" width="2.7" height="2.5" fill="#ecf4fc"/>
<rect x="255.5" y="623.6" width="2.7" height="2.5" fill="#f1f7fd"/>
<rect x="257.9" y="623.6" width="5.1" height="2.5" fill="#f5fafe"/>
<rect x="229.1" y="625.8" width="2.7" height="2.5" fill="#fafcfe"/>
<rect x="231.5" y="625.8" width="2.7" height="2.5" fill="#f5fafe"/>
<rect x="233.9" y="625.8" width="2.7" height="2.5" fill="#f1f7fd"/>
<rect x="236.3" y="625.8" width="5.1" height="2.5" fill="#ecf4fc"/>
<rect x="241.1" y="625.8" width="7.5" height="2.5" fill="#e7f2fc"/>
<rect x="248.3" y="625.8" width="2.7" height="2.5" fill="#ecf4fc"/>
<rect x="250.7" y="625.8" width="5.1" height="2.5" fill="#f1f7fd"/>
<rect x="255.5" y="625.8" width="2.7" height="2.5" fill="#f5fafe"/>
<rect x="257.9" y="625.8" width="2.7" height="2.5" fill="#fafcfe"/>
<rect x="229.1" y="628.1" width="5.1" height="2.5" fill="#f5fafe"/>
<rect x="233.9" y="628.1" width="5.1" height="2.5" fill="#f1f7fd"/>
<rect x="238.7" y="628.1" width="7.5" height="2.5" fill="#ecf4fc"/>
<rect x="245.9" y="628.1" width="5.1" height="2.5" fill="#f1f7fd"/>
<rect x="250.7" y="628.1" width="5.1" height="2.5" fill="#f5fafe"/>
<rect x="255.5" y="628.1" width="2.7" height="2.5" fill="#fafcfe"/>
<rect x="229.1" y="630.3" width="7.5" height="2.5" fill="#f5fafe"/>
<rect x="236.3" y="630.3" width="9.9" height="2.5" fill="#f1f7fd"/>
<rect x="245.9" y="630.3" width="5.1" height="2.5" fill="#f5fafe"/>
<rect x="250.7" y="630.3" width="2.7" height="2.5" fill="#fafcfe"/>
<rect x="229.1" y="632.5" width="2.7" height="2.5" fill="#fafcfe"/>
<rect x="231.5" y="632.5" width="14.7" height="2.5" fill="#f5fafe"/>
<rect x="245.9" y="632.5" width="2.7" height="2.5" fill="#fafcfe"/>
<rect x="231.5" y="634.7" width="2.7" height="2.5" fill="#fafcfe"/>
<rect x="233.9" y="634.7" width="5.1" height="2.5" fill="#f5fafe"/>
<rect x="238.7" y="634.7" width="5.1" height="2.5" fill="#fafcfe"/>
<path d="M142.20 714.30h3.1v3.9h-3.1zM150.20 708.55h3.1v3.9h-3.1zM180.45 678.55h3.1v3.9h-3.1zM183.45 675.55h3.1v3.9h-3.1zM198.45 662.55h3.1v3.9h-3.1zM199.20 661.05h3.1v3.9h-3.1zM203.45 656.80h3.1v3.9h-3.1zM205.45 655.05h3.1v3.9h-3.1zM207.95 653.05h3.1v3.9h-3.1zM212.95 649.30h3.1v3.9h-3.1zM215.95 646.05h3.1v3.9h-3.1zM218.45 643.80h3.1v3.9h-3.1zM223.45 639.30h3.1v3.9h-3.1zM225.95 637.05h3.1v3.9h-3.1zM229.70 633.55h3.1v3.9h-3.1zM231.45 631.80h3.1v3.9h-3.1zM233.45 630.05h3.1v3.9h-3.1zM235.20 628.05h3.1v3.9h-3.1zM236.70 626.55h3.1v3.9h-3.1zM238.45 624.80h3.1v3.9h-3.1zM218.95 580.05h3.1v3.9h-3.1zM260.45 632.55h3.1v3.9h-3.1zM302.45 599.30h3.1v3.9h-3.1zM312.95 577.55h3.1v3.9h-3.1zM280.45 562.05h3.1v3.9h-3.1zM287.95 548.05h3.1v3.9h-3.1zM291.45 551.25h3.1v3.9h-3.1zM292.85 539.30h3.1v3.9h-3.1zM310.45 538.80h3.1v3.9h-3.1zM311.45 533.05h3.1v3.9h-3.1zM326.70 530.55h3.1v3.9h-3.1zM330.45 520.55h3.1v3.9h-3.1zM336.45 510.05h3.1v3.9h-3.1zM353.95 501.05h3.1v3.9h-3.1zM356.45 483.55h3.1v3.9h-3.1zM358.45 490.55h3.1v3.9h-3.1zM369.70 485.05h3.1v3.9h-3.1zM375.45 486.95h3.1v3.9h-3.1zM367.70 498.05h3.1v3.9h-3.1zM369.70 497.30h3.1v3.9h-3.1zM374.70 496.80h3.1v3.9h-3.1zM376.45 495.55h3.1v3.9h-3.1zM378.45 494.30h3.1v3.9h-3.1zM380.20 492.55h3.1v3.9h-3.1zM382.20 491.05h3.1v3.9h-3.1zM383.95 489.30h3.1v3.9h-3.1zM385.45 487.55h3.1v3.9h-3.1zM387.20 486.05h3.1v3.9h-3.1zM388.95 484.30h3.1v3.9h-3.1zM390.95 482.55h3.1v3.9h-3.1zM392.70 480.55h3.1v3.9h-3.1zM394.20 479.30h3.1v3.9h-3.1zM401.45 428.80h3.1v3.9h-3.1zM453.45 425.55h3.1v3.9h-3.1zM451.95 427.05h3.1v3.9h-3.1zM450.45 428.80h3.1v3.9h-3.1zM426.45 443.05h3.1v3.9h-3.1zM419.20 445.55h3.1v3.9h-3.1zM418.45 449.30h3.1v3.9h-3.1zM417.70 451.80h3.1v3.9h-3.1zM416.45 455.05h3.1v3.9h-3.1zM418.45 458.05h3.1v3.9h-3.1zM420.20 456.80h3.1v3.9h-3.1zM410.45 465.05h3.1v3.9h-3.1zM407.20 468.80h3.1v3.9h-3.1zM402.70 473.05h3.1v3.9h-3.1zM394.70 478.55h3.1v3.9h-3.1zM392.20 480.55h3.1v3.9h-3.1zM389.70 483.05h3.1v3.9h-3.1zM375.49 496.93h3.1v3.9h-3.1zM376.29 496.24h3.1v3.9h-3.1zM375.94 494.31h3.1v3.9h-3.1zM376.33 493.18h3.1v3.9h-3.1zM379.24 494.75h3.1v3.9h-3.1zM380.04 494.06h3.1v3.9h-3.1zM378.73 491.10h3.1v3.9h-3.1zM379.94 490.85h3.1v3.9h-3.1zM381.89 491.40h3.1v3.9h-3.1zM382.69 490.71h3.1v3.9h-3.1zM381.93 488.33h3.1v3.9h-3.1zM382.73 487.64h3.1v3.9h-3.1zM383.53 486.95h3.1v3.9h-3.1zM385.89 487.94h3.1v3.9h-3.1zM386.69 487.25h3.1v3.9h-3.1zM387.49 486.55h3.1v3.9h-3.1zM386.73 484.18h3.1v3.9h-3.1zM389.64 485.75h3.1v3.9h-3.1zM390.44 485.06h3.1v3.9h-3.1zM390.69 483.79h3.1v3.9h-3.1zM392.04 483.68h3.1v3.9h-3.1zM391.14 481.16h3.1v3.9h-3.1zM393.64 482.29h3.1v3.9h-3.1zM392.74 479.78h3.1v3.9h-3.1zM393.13 478.65h3.1v3.9h-3.1zM393.93 477.95h3.1v3.9h-3.1z" fill="#111"/>
<rect x="96.75" y="381.25" width="409.0" height="378.0" fill="none" stroke="#222" stroke-width="1"/>
<path d="M112.50 759.25v7.5" stroke="#222" stroke-width="1"/>
<text x="112.50" y="786" font-size="12" text-anchor="middle">−10</text>
<path d="M96.75 745.40h-7" stroke="#222" stroke-width="1"/>
<text transform="translate(81 745.40) rotate(-90)" font-size="12" text-anchor="middle">−10</text>
<path d="M207.00 759.25v7.5" stroke="#222" stroke-width="1"/>
<text x="207.00" y="786" font-size="12" text-anchor="middle">−5</text>
<path d="M96.75 657.90h-7" stroke="#222" stroke-width="1"/>
<text transform="translate(81 657.90) rotate(-90)" font-size="12" text-anchor="middle">−5</text>
<path d="M301.50 759.25v7.5" stroke="#222" stroke-width="1"/>
<text x="301.50" y="786" font-size="12" text-anchor="middle">0</text>
<path d="M96.75 570.40h-7" stroke="#222" stroke-width="1"/>
<text transform="translate(81 570.40) rotate(-90)" font-size="12" text-anchor="middle">0</text>
<path d="M396.00 759.25v7.5" stroke="#222" stroke-width="1"/>
<text x="396.00" y="786" font-size="12" text-anchor="middle">5</text>
<path d="M96.75 482.90h-7" stroke="#222" stroke-width="1"/>
<text transform="translate(81 482.90) rotate(-90)" font-size="12" text-anchor="middle">5</text>
<path d="M490.50 759.25v7.5" stroke="#222" stroke-width="1"/>
<text x="490.50" y="786" font-size="12" text-anchor="middle">10</text>
<path d="M96.75 395.40h-7" stroke="#222" stroke-width="1"/>
<text transform="translate(81 395.40) rotate(-90)" font-size="12" text-anchor="middle">10</text>
<text x="302.2" y="808.3" font-size="12.3" letter-spacing="0.35" text-anchor="middle">Log2FC unfiltered (tumor/CDXF1)</text>
<text transform="translate(51.4 565.3) rotate(-90)" font-size="12.3" letter-spacing="0.35" text-anchor="middle">Log2FC filtered (tumor/CDXF1)</text>
</g>
<g id="panelC">
<rect x="229.2" y="867.10" width="25.18" height="10.2" fill="#ffffb3" stroke="#bcb888" stroke-width="0.8"/>
<text x="225" y="875.20" font-size="8.65" text-anchor="end">Microfilament motor activity</text>
<rect x="229.2" y="881.10" width="25.58" height="10.2" fill="#7fdde1" stroke="#74b4ba" stroke-width="0.8"/>
<text x="225" y="889.20" font-size="8.65" text-anchor="end">Second-messenger-mediated signaling</text>
<rect x="229.2" y="895.10" width="27.61" height="10.2" fill="#b9a7e3" stroke="#9a8fc0" stroke-width="0.8"/>
<text x="225" y="903.20" font-size="8.65" text-anchor="end">Plasma membrane protein complex</text>
<rect x="229.2" y="909.10" width="28.02" height="10.2" fill="#7fdde1" stroke="#74b4ba" stroke-width="0.8"/>
<text x="225" y="917.20" font-size="8.65" text-anchor="end">Multicellular organismal macromolecule metabolic process</text>
<rect x="229.2" y="923.10" width="32.49" height="10.2" fill="#ffffb3" stroke="#bcb888" stroke-width="0.8"/>
<text x="225" y="931.20" font-size="8.65" text-anchor="end">Metal ion transmembrane transporter activity</text>
<rect x="229.2" y="937.10" width="38.98" height="10.2" fill="#7fdde1" stroke="#74b4ba" stroke-width="0.8"/>
<text x="225" y="945.20" font-size="8.65" text-anchor="end">Skeletal system development</text>
<rect x="229.2" y="951.10" width="41.01" height="10.2" fill="#ffffb3" stroke="#bcb888" stroke-width="0.8"/>
<text x="225" y="959.20" font-size="8.65" text-anchor="end">Alpha-actinin binding</text>
<rect x="229.2" y="965.10" width="41.17" height="10.2" fill="#b9a7e3" stroke="#9a8fc0" stroke-width="0.8"/>
<text x="225" y="973.20" font-size="8.65" text-anchor="end">Sarcolemma</text>
<rect x="229.2" y="979.10" width="41.82" height="10.2" fill="#7fdde1" stroke="#74b4ba" stroke-width="0.8"/>
<text x="225" y="987.20" font-size="8.65" text-anchor="end">Potassium ion transport</text>
<rect x="229.2" y="993.10" width="54.00" height="10.2" fill="#ffffb3" stroke="#bcb888" stroke-width="0.8"/>
<text x="225" y="1001.20" font-size="8.65" text-anchor="end">G-Protein–coupled receptor activity</text>
<rect x="229.2" y="1007.10" width="56.44" height="10.2" fill="#7fdde1" stroke="#74b4ba" stroke-width="0.8"/>
<text x="225" y="1015.20" font-size="8.65" text-anchor="end">Extracellular matrix organization</text>
<rect x="229.2" y="1021.10" width="79.58" height="10.2" fill="#b9a7e3" stroke="#9a8fc0" stroke-width="0.8"/>
<text x="225" y="1029.20" font-size="8.65" text-anchor="end">Extracellular matrix</text>
<rect x="229.2" y="1035.10" width="103.13" height="10.2" fill="#ffffb3" stroke="#bcb888" stroke-width="0.8"/>
<text x="225" y="1043.20" font-size="8.65" text-anchor="end">Structural constituent of muscle</text>
<rect x="229.2" y="1049.10" width="247.26" height="10.2" fill="#7fdde1" stroke="#74b4ba" stroke-width="0.8"/>
<text x="225" y="1057.20" font-size="8.65" text-anchor="end">Muscle contraction</text>
<rect x="229.2" y="1063.10" width="252.13" height="10.2" fill="#b9a7e3" stroke="#9a8fc0" stroke-width="0.8"/>
<text x="225" y="1071.20" font-size="8.65" text-anchor="end">Contractile fiber part</text>
<path d="M229.2 865.5V1075H513.5v-4.5" fill="none" stroke="#222" stroke-width="1"/>
<text x="229.70" y="1089.5" font-size="8.8" text-anchor="middle">0</text>
<path d="M269.80 1075v-2.2" stroke="#222" stroke-width="1"/>
<text x="270.30" y="1089.5" font-size="8.8" text-anchor="middle">5</text>
<path d="M310.40 1075v-2.2" stroke="#222" stroke-width="1"/>
<text x="310.90" y="1089.5" font-size="8.8" text-anchor="middle">10</text>
<path d="M351.00 1075v-2.2" stroke="#222" stroke-width="1"/>
<text x="351.50" y="1089.5" font-size="8.8" text-anchor="middle">15</text>
<path d="M391.60 1075v-2.2" stroke="#222" stroke-width="1"/>
<text x="392.10" y="1089.5" font-size="8.8" text-anchor="middle">20</text>
<path d="M432.20 1075v-2.2" stroke="#222" stroke-width="1"/>
<text x="432.70" y="1089.5" font-size="8.8" text-anchor="middle">25</text>
<path d="M472.80 1075v-2.2" stroke="#222" stroke-width="1"/>
<text x="473.30" y="1089.5" font-size="8.8" text-anchor="middle">30</text>
<text x="513.90" y="1089.5" font-size="8.8" text-anchor="middle">35</text>
<text x="347.3" y="1103.2" font-size="8.5" text-anchor="middle">−Log10 (FDR)</text>
<rect x="422.8" y="979.10" width="13.8" height="12.8" fill="#7fdde1" stroke="#74b4ba" stroke-width="0.8"/>
<text x="440.2" y="988.30" font-size="9.6">BP</text>
<rect x="422.8" y="1000.10" width="13.8" height="12.8" fill="#b9a7e3" stroke="#9a8fc0" stroke-width="0.8"/>
<text x="440.2" y="1009.30" font-size="9.6">CC</text>
<rect x="422.8" y="1021.10" width="13.8" height="12.8" fill="#ffffb3" stroke="#bcb888" stroke-width="0.8"/>
<text x="440.2" y="1030.30" font-size="9.6">MF</text>
</g>
</svg>
</body></html>
